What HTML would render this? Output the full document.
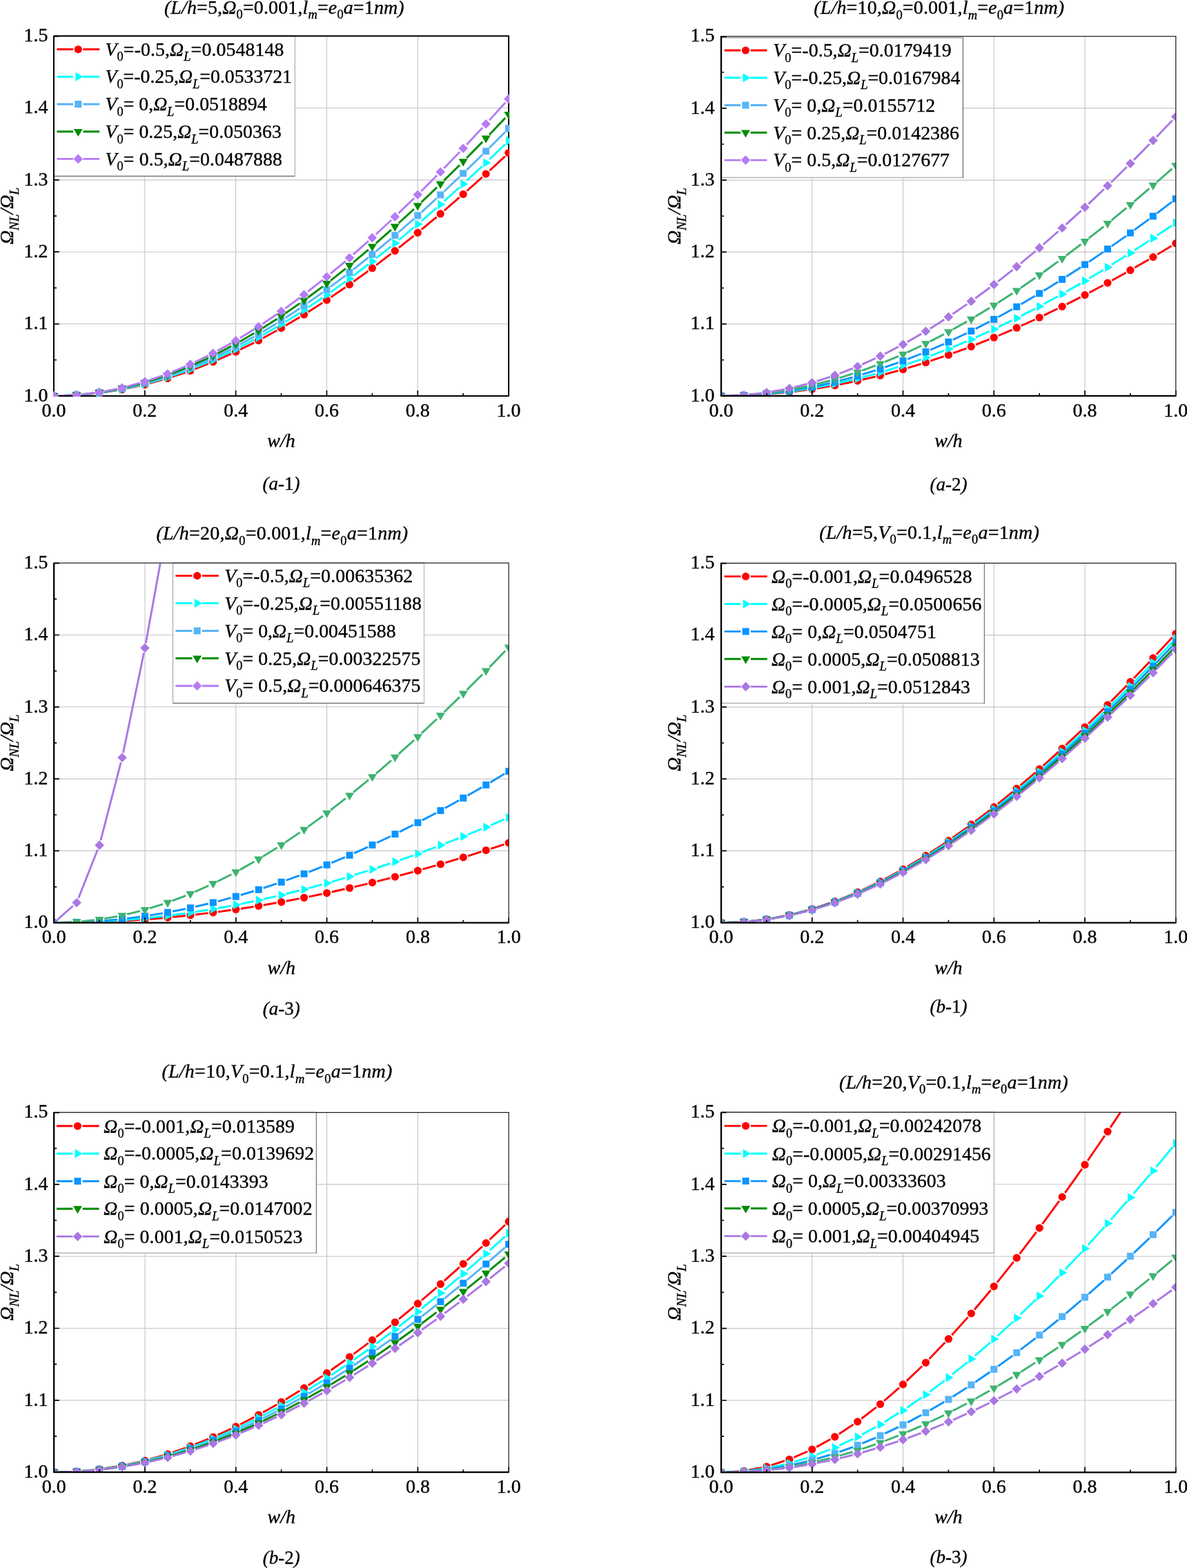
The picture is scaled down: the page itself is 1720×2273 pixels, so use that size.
<!DOCTYPE html>
<html><head><meta charset="utf-8"><title>Figure</title>
<style>
html,body{margin:0;padding:0;background:#fff;overflow:hidden;}
svg{display:block;}
text{font-family:"Liberation Serif", "Times New Roman", serif;fill:#000;stroke:#000;stroke-width:0.35px;}
</style></head>
<body>
<svg width="1720" height="2273" viewBox="0 0 1720 2273">
<rect width="1720" height="2273" fill="#fff"/>
<clipPath id="ca1"><rect x="78.0" y="52.2" width="659.1" height="521.6999999999999"/></clipPath>
<path d="M209.82,52.20V573.90M341.64,52.20V573.90M473.46,52.20V573.90M605.28,52.20V573.90M78.00,469.56H737.10M78.00,365.22H737.10M78.00,260.88H737.10M78.00,156.54H737.10" stroke="#c6c6c6" stroke-width="1.1" fill="none"/>
<g clip-path="url(#ca1)"><path d="M85.20,573.68L103.76,573.10M118.12,572.20L136.74,570.46M151.02,568.69L169.75,565.78M183.90,563.16L202.78,559.08M216.76,555.65L235.83,550.40M249.61,546.21L268.90,539.77M282.44,534.88L301.98,527.26M315.26,521.72L335.06,512.93M348.09,506.80L368.15,496.85M380.91,490.19L401.23,479.09M413.74,471.96L434.32,459.73M446.57,452.18L467.39,438.86M479.41,430.92L500.47,416.55M512.25,408.28L533.54,392.89M545.10,384.31L566.60,367.95M577.96,359.10L599.65,341.81M610.82,332.72L632.70,314.53M643.69,305.23L665.74,286.20M676.56,276.71L698.77,256.88M709.44,247.21L731.80,226.63" stroke="#ff0000" stroke-width="2.9" fill="none"/><circle cx="78.00" cy="573.90" r="5.6" fill="#ff0000"/><circle cx="110.96" cy="572.87" r="5.6" fill="#ff0000"/><circle cx="143.91" cy="569.79" r="5.6" fill="#ff0000"/><circle cx="176.87" cy="564.68" r="5.6" fill="#ff0000"/><circle cx="209.82" cy="557.57" r="5.6" fill="#ff0000"/><circle cx="242.78" cy="548.49" r="5.6" fill="#ff0000"/><circle cx="275.73" cy="537.49" r="5.6" fill="#ff0000"/><circle cx="308.69" cy="524.65" r="5.6" fill="#ff0000"/><circle cx="341.64" cy="510.01" r="5.6" fill="#ff0000"/><circle cx="374.60" cy="493.64" r="5.6" fill="#ff0000"/><circle cx="407.55" cy="475.63" r="5.6" fill="#ff0000"/><circle cx="440.51" cy="456.06" r="5.6" fill="#ff0000"/><circle cx="473.46" cy="434.98" r="5.6" fill="#ff0000"/><circle cx="506.42" cy="412.50" r="5.6" fill="#ff0000"/><circle cx="539.37" cy="388.67" r="5.6" fill="#ff0000"/><circle cx="572.33" cy="363.59" r="5.6" fill="#ff0000"/><circle cx="605.28" cy="337.32" r="5.6" fill="#ff0000"/><circle cx="638.24" cy="309.93" r="5.6" fill="#ff0000"/><circle cx="671.19" cy="281.50" r="5.6" fill="#ff0000"/><circle cx="704.15" cy="252.09" r="5.6" fill="#ff0000"/><circle cx="737.10" cy="221.75" r="5.6" fill="#ff0000"/><path d="M85.20,573.66L103.76,573.05M118.12,572.11L136.74,570.27M151.02,568.39L169.76,565.32M183.88,562.55L202.80,558.24M216.73,554.63L235.86,549.06M249.57,544.66L268.94,537.84M282.39,532.71L302.03,524.64M315.21,518.84L335.12,509.52M348.02,503.13L368.21,492.57M380.84,485.64L401.31,473.86M413.66,466.46L434.40,453.49M446.48,445.66L467.48,431.55M479.31,423.34L500.56,408.11M512.15,399.57L533.63,383.27M545.00,374.43L566.70,357.11M577.85,348.01L599.75,329.72M610.71,320.38L632.80,301.16M643.58,291.61L665.84,271.52M676.45,261.78L698.88,240.86M709.34,230.96L731.91,209.26" stroke="#00ffff" stroke-width="2.9" fill="none"/><path d="M74.10,567.40L85.30,573.90L74.10,580.40Z" fill="#00ffff"/><path d="M107.06,566.31L118.26,572.81L107.06,579.31Z" fill="#00ffff"/><path d="M140.01,563.06L151.21,569.56L140.01,576.06Z" fill="#00ffff"/><path d="M172.97,557.66L184.17,564.16L172.97,570.66Z" fill="#00ffff"/><path d="M205.92,550.14L217.12,556.64L205.92,563.14Z" fill="#00ffff"/><path d="M238.88,540.55L250.08,547.05L238.88,553.55Z" fill="#00ffff"/><path d="M271.83,528.95L283.03,535.45L271.83,541.95Z" fill="#00ffff"/><path d="M304.79,515.40L315.99,521.90L304.79,528.40Z" fill="#00ffff"/><path d="M337.74,499.96L348.94,506.46L337.74,512.96Z" fill="#00ffff"/><path d="M370.70,482.73L381.90,489.23L370.70,495.73Z" fill="#00ffff"/><path d="M403.65,463.77L414.85,470.27L403.65,476.77Z" fill="#00ffff"/><path d="M436.61,443.18L447.81,449.68L436.61,456.18Z" fill="#00ffff"/><path d="M469.56,421.03L480.76,427.53L469.56,434.03Z" fill="#00ffff"/><path d="M502.52,397.42L513.72,403.92L502.52,410.42Z" fill="#00ffff"/><path d="M535.47,372.42L546.67,378.92L535.47,385.42Z" fill="#00ffff"/><path d="M568.43,346.12L579.62,352.62L568.43,359.12Z" fill="#00ffff"/><path d="M601.38,318.60L612.58,325.10L601.38,331.60Z" fill="#00ffff"/><path d="M634.34,289.93L645.54,296.43L634.34,302.93Z" fill="#00ffff"/><path d="M667.29,260.20L678.49,266.70L667.29,273.20Z" fill="#00ffff"/><path d="M700.25,229.45L711.45,235.95L700.25,242.45Z" fill="#00ffff"/><path d="M733.20,197.77L744.40,204.27L733.20,210.77Z" fill="#00ffff"/><path d="M85.20,573.65L103.76,573.00M118.12,572.00L136.75,570.06M151.00,568.08L169.77,564.84M183.86,561.92L202.82,557.36M216.70,553.56L235.89,547.67M249.52,543.05L268.98,535.82M282.34,530.45L302.08,521.89M315.14,515.84L335.18,505.95M347.95,499.30L368.29,488.10M380.76,480.90L401.39,468.41M413.57,460.73L434.49,446.99M446.39,438.89L467.58,423.93M479.21,415.46L500.66,399.33M512.05,390.52L533.73,373.28M544.89,364.18L566.80,345.86M577.75,336.51L599.86,317.18M610.61,307.59L632.91,287.30M643.47,277.51L665.95,256.31M676.35,246.35L698.99,224.29M709.23,214.17L732.02,191.30" stroke="#56b4f7" stroke-width="2.9" fill="none"/><rect x="73.00" y="568.90" width="10.00" height="10.00" fill="#56b4f7"/><rect x="105.96" y="567.75" width="10.00" height="10.00" fill="#56b4f7"/><rect x="138.91" y="564.31" width="10.00" height="10.00" fill="#56b4f7"/><rect x="171.87" y="558.61" width="10.00" height="10.00" fill="#56b4f7"/><rect x="204.82" y="550.67" width="10.00" height="10.00" fill="#56b4f7"/><rect x="237.78" y="540.55" width="10.00" height="10.00" fill="#56b4f7"/><rect x="270.73" y="528.31" width="10.00" height="10.00" fill="#56b4f7"/><rect x="303.69" y="514.03" width="10.00" height="10.00" fill="#56b4f7"/><rect x="336.64" y="497.77" width="10.00" height="10.00" fill="#56b4f7"/><rect x="369.60" y="479.63" width="10.00" height="10.00" fill="#56b4f7"/><rect x="402.55" y="459.69" width="10.00" height="10.00" fill="#56b4f7"/><rect x="435.51" y="438.04" width="10.00" height="10.00" fill="#56b4f7"/><rect x="468.46" y="414.78" width="10.00" height="10.00" fill="#56b4f7"/><rect x="501.42" y="390.00" width="10.00" height="10.00" fill="#56b4f7"/><rect x="534.37" y="363.80" width="10.00" height="10.00" fill="#56b4f7"/><rect x="567.33" y="336.24" width="10.00" height="10.00" fill="#56b4f7"/><rect x="600.28" y="307.44" width="10.00" height="10.00" fill="#56b4f7"/><rect x="633.24" y="277.45" width="10.00" height="10.00" fill="#56b4f7"/><rect x="666.19" y="246.37" width="10.00" height="10.00" fill="#56b4f7"/><rect x="699.15" y="214.27" width="10.00" height="10.00" fill="#56b4f7"/><rect x="732.10" y="181.21" width="10.00" height="10.00" fill="#56b4f7"/><path d="M85.20,573.63L103.76,572.95M118.11,571.89L136.75,569.83M150.99,567.73L169.78,564.28M183.84,561.20L202.84,556.35M216.67,552.34L235.93,546.07M249.48,541.21L269.03,533.52M282.27,527.88L302.14,518.77M315.07,512.44L335.26,501.90M347.86,494.95L368.37,483.02M380.66,475.53L401.48,462.23M413.47,454.25L434.59,439.62M446.28,431.22L467.68,415.31M479.11,406.54L500.77,389.39M511.94,380.30L533.85,361.97M544.78,352.60L566.92,333.15M577.63,323.53L599.98,303.02M610.49,293.18L633.03,271.67M643.36,261.63L666.07,239.18M676.23,228.97L699.11,205.63M709.11,195.27L732.13,171.10" stroke="#008c00" stroke-width="2.9" fill="none"/><path d="M71.50,570.00L84.50,570.00L78.00,581.20Z" fill="#008c00"/><path d="M104.46,568.78L117.46,568.78L110.96,579.98Z" fill="#008c00"/><path d="M137.41,565.13L150.41,565.13L143.91,576.33Z" fill="#008c00"/><path d="M170.37,559.08L183.37,559.08L176.87,570.28Z" fill="#008c00"/><path d="M203.32,550.67L216.32,550.67L209.82,561.87Z" fill="#008c00"/><path d="M236.28,539.95L249.28,539.95L242.78,551.15Z" fill="#008c00"/><path d="M269.23,526.99L282.23,526.99L275.73,538.19Z" fill="#008c00"/><path d="M302.19,511.87L315.19,511.87L308.69,523.07Z" fill="#008c00"/><path d="M335.14,494.67L348.14,494.67L341.64,505.87Z" fill="#008c00"/><path d="M368.10,475.50L381.10,475.50L374.60,486.70Z" fill="#008c00"/><path d="M401.05,454.45L414.05,454.45L407.55,465.65Z" fill="#008c00"/><path d="M434.01,431.62L447.01,431.62L440.51,442.82Z" fill="#008c00"/><path d="M466.96,407.11L479.96,407.11L473.46,418.31Z" fill="#008c00"/><path d="M499.92,381.02L512.91,381.02L506.42,392.22Z" fill="#008c00"/><path d="M532.87,353.45L545.87,353.45L539.37,364.65Z" fill="#008c00"/><path d="M565.83,324.50L578.83,324.50L572.33,335.70Z" fill="#008c00"/><path d="M598.78,294.25L611.78,294.25L605.28,305.45Z" fill="#008c00"/><path d="M631.74,262.80L644.74,262.80L638.24,274.00Z" fill="#008c00"/><path d="M664.69,230.22L677.69,230.22L671.19,241.42Z" fill="#008c00"/><path d="M697.65,196.59L710.65,196.59L704.15,207.79Z" fill="#008c00"/><path d="M730.60,161.99L743.60,161.99L737.10,173.19Z" fill="#008c00"/><path d="M85.19,573.62L103.76,572.89M118.11,571.76L136.76,569.56M150.98,567.34L169.80,563.66M183.81,560.39L202.87,555.22M216.62,550.98L235.97,544.29M249.42,539.16L269.09,530.94M282.20,525.01L302.21,515.27M314.98,508.63L335.34,497.37M347.77,490.10L368.47,477.34M380.56,469.53L401.59,455.31M413.36,447.02L434.70,431.39M446.17,422.69L467.80,405.69M478.99,396.62L500.89,378.32M511.81,368.94L533.97,349.39M544.65,339.74L567.04,319.02M577.50,309.13L600.10,287.30M610.36,277.20L633.15,254.32M643.23,244.03L666.20,220.18M676.10,209.73L699.23,184.96M708.99,174.37L732.26,148.74" stroke="#b57bf5" stroke-width="2.9" fill="none"/><path d="M78.00,567.10L84.80,573.90L78.00,580.70L71.20,573.90Z" fill="#b57bf5"/><path d="M110.96,565.80L117.76,572.60L110.96,579.40L104.16,572.60Z" fill="#b57bf5"/><path d="M143.91,561.92L150.71,568.72L143.91,575.52L137.11,568.72Z" fill="#b57bf5"/><path d="M176.87,555.48L183.67,562.28L176.87,569.08L170.06,562.28Z" fill="#b57bf5"/><path d="M209.82,546.53L216.62,553.33L209.82,560.13L203.02,553.33Z" fill="#b57bf5"/><path d="M242.78,535.13L249.58,541.93L242.78,548.73L235.97,541.93Z" fill="#b57bf5"/><path d="M275.73,521.37L282.53,528.17L275.73,534.97L268.93,528.17Z" fill="#b57bf5"/><path d="M308.69,505.32L315.49,512.12L308.69,518.92L301.89,512.12Z" fill="#b57bf5"/><path d="M341.64,487.08L348.44,493.88L341.64,500.68L334.84,493.88Z" fill="#b57bf5"/><path d="M374.60,466.77L381.40,473.57L374.60,480.37L367.80,473.57Z" fill="#b57bf5"/><path d="M407.55,444.48L414.35,451.28L407.55,458.08L400.75,451.28Z" fill="#b57bf5"/><path d="M440.51,420.33L447.31,427.13L440.51,433.93L433.71,427.13Z" fill="#b57bf5"/><path d="M473.46,394.44L480.26,401.24L473.46,408.04L466.66,401.24Z" fill="#b57bf5"/><path d="M506.42,366.90L513.22,373.70L506.42,380.50L499.62,373.70Z" fill="#b57bf5"/><path d="M539.37,337.83L546.17,344.63L539.37,351.43L532.57,344.63Z" fill="#b57bf5"/><path d="M572.33,307.33L579.12,314.13L572.33,320.93L565.53,314.13Z" fill="#b57bf5"/><path d="M605.28,275.50L612.08,282.30L605.28,289.10L598.48,282.30Z" fill="#b57bf5"/><path d="M638.24,242.42L645.04,249.22L638.24,256.02L631.44,249.22Z" fill="#b57bf5"/><path d="M671.19,208.19L677.99,214.99L671.19,221.79L664.39,214.99Z" fill="#b57bf5"/><path d="M704.15,172.90L710.95,179.70L704.15,186.50L697.35,179.70Z" fill="#b57bf5"/><path d="M737.10,136.61L743.90,143.41L737.10,150.21L730.30,143.41Z" fill="#b57bf5"/></g>
<path d="M143.91,573.90V569.90M209.82,573.90V566.10M275.73,573.90V569.90M341.64,573.90V566.10M407.55,573.90V569.90M473.46,573.90V566.10M539.37,573.90V569.90M605.28,573.90V566.10M671.19,573.90V569.90M737.10,573.90V566.10M78.00,521.73H82.00M78.00,469.56H85.80M78.00,417.39H82.00M78.00,365.22H85.80M78.00,313.05H82.00M78.00,260.88H85.80M78.00,208.71H82.00M78.00,156.54H85.80M78.00,104.37H82.00" stroke="#000" stroke-width="1.7" fill="none"/>
<rect x="78.00" y="52.20" width="349.40" height="203.10" fill="#fff"/>
<path d="M78.00,52.20H427.40" stroke="#666" stroke-width="1.25" fill="none"/>
<path d="M78.00,52.20V255.30" stroke="#666" stroke-width="1.25" fill="none"/>
<path d="M78.00,255.30H428.00" stroke="#666" stroke-width="1.25" fill="none"/>
<path d="M427.40,52.20V255.90" stroke="#b0b0b0" stroke-width="1.25" fill="none"/>
<path d="M82.50,71.50H106.10M120.50,71.50H144.20" stroke="#ff0000" stroke-width="2.9" fill="none"/>
<circle cx="113.30" cy="71.50" r="5.6" fill="#ff0000"/>
<text x="152.50" y="80.70" font-size="27.8" text-anchor="start" id="l_a1_0" textLength="258.84" lengthAdjust="spacing"><tspan font-style="italic">V</tspan><tspan font-size="18.35" dy="7.51">0</tspan><tspan dy="-7.51">=-0.5,</tspan><tspan font-style="italic">Ω</tspan><tspan font-style="italic" font-size="18.35" dy="7.51">L</tspan><tspan dy="-7.51">=0.0548148</tspan></text>
<path d="M82.50,111.20H106.10M120.50,111.20H144.20" stroke="#00ffff" stroke-width="2.9" fill="none"/>
<path d="M109.40,104.70L120.60,111.20L109.40,117.70Z" fill="#00ffff"/>
<text x="152.50" y="120.40" font-size="27.8" text-anchor="start" id="l_a1_1" textLength="270.53" lengthAdjust="spacing"><tspan font-style="italic">V</tspan><tspan font-size="18.35" dy="7.51">0</tspan><tspan dy="-7.51">=-0.25,</tspan><tspan font-style="italic">Ω</tspan><tspan font-style="italic" font-size="18.35" dy="7.51">L</tspan><tspan dy="-7.51">=0.0533721</tspan></text>
<path d="M82.50,151.00H106.10M120.50,151.00H144.20" stroke="#56b4f7" stroke-width="2.9" fill="none"/>
<rect x="108.30" y="146.00" width="10.00" height="10.00" fill="#56b4f7"/>
<text x="152.50" y="160.20" font-size="27.8" text-anchor="start" id="l_a1_2" textLength="234.08" lengthAdjust="spacing"><tspan font-style="italic">V</tspan><tspan font-size="18.35" dy="7.51">0</tspan><tspan dy="-7.51">= 0,</tspan><tspan font-style="italic">Ω</tspan><tspan font-style="italic" font-size="18.35" dy="7.51">L</tspan><tspan dy="-7.51">=0.0518894</tspan></text>
<path d="M82.50,190.80H106.10M120.50,190.80H144.20" stroke="#008c00" stroke-width="2.9" fill="none"/>
<path d="M106.80,186.90L119.80,186.90L113.30,198.10Z" fill="#008c00"/>
<text x="152.50" y="200.00" font-size="27.8" text-anchor="start" id="l_a1_3" textLength="255.32" lengthAdjust="spacing"><tspan font-style="italic">V</tspan><tspan font-size="18.35" dy="7.51">0</tspan><tspan dy="-7.51">= 0.25,</tspan><tspan font-style="italic">Ω</tspan><tspan font-style="italic" font-size="18.35" dy="7.51">L</tspan><tspan dy="-7.51">=0.050363</tspan></text>
<path d="M82.50,230.40H106.10M120.50,230.40H144.20" stroke="#b57bf5" stroke-width="2.9" fill="none"/>
<path d="M113.30,223.60L120.10,230.40L113.30,237.20L106.50,230.40Z" fill="#b57bf5"/>
<text x="152.50" y="239.60" font-size="27.8" text-anchor="start" id="l_a1_4" textLength="256.43" lengthAdjust="spacing"><tspan font-style="italic">V</tspan><tspan font-size="18.35" dy="7.51">0</tspan><tspan dy="-7.51">= 0.5,</tspan><tspan font-style="italic">Ω</tspan><tspan font-style="italic" font-size="18.35" dy="7.51">L</tspan><tspan dy="-7.51">=0.0487888</tspan></text>
<path d="M78.00,52.20H737.10V573.90" stroke="#000" stroke-width="2.0" fill="none"/>
<path d="M78.00,51.70V573.90H737.70" stroke="#000" stroke-width="2.0" fill="none"/>
<path d="M78.00,52.50H85.80" stroke="#000" stroke-width="1.8" fill="none"/>
<clipPath id="cea1"><rect x="77.0" y="51.2" width="661.1" height="523.6999999999999"/></clipPath>
<g clip-path="url(#cea1)"><circle cx="78.00" cy="573.90" r="5.6" fill="#ff0000"/><circle cx="110.96" cy="572.87" r="5.6" fill="#ff0000"/><circle cx="143.91" cy="569.79" r="5.6" fill="#ff0000"/><circle cx="737.10" cy="221.75" r="5.6" fill="#ff0000"/><path d="M74.10,567.40L85.30,573.90L74.10,580.40Z" fill="#00ffff"/><path d="M107.06,566.31L118.26,572.81L107.06,579.31Z" fill="#00ffff"/><path d="M140.01,563.06L151.21,569.56L140.01,576.06Z" fill="#00ffff"/><path d="M733.20,197.77L744.40,204.27L733.20,210.77Z" fill="#00ffff"/><rect x="73.00" y="568.90" width="10.00" height="10.00" fill="#56b4f7"/><rect x="105.96" y="567.75" width="10.00" height="10.00" fill="#56b4f7"/><rect x="138.91" y="564.31" width="10.00" height="10.00" fill="#56b4f7"/><rect x="732.10" y="181.21" width="10.00" height="10.00" fill="#56b4f7"/><path d="M71.50,570.00L84.50,570.00L78.00,581.20Z" fill="#008c00"/><path d="M104.46,568.78L117.46,568.78L110.96,579.98Z" fill="#008c00"/><path d="M137.41,565.13L150.41,565.13L143.91,576.33Z" fill="#008c00"/><path d="M730.60,161.99L743.60,161.99L737.10,173.19Z" fill="#008c00"/><path d="M78.00,567.10L84.80,573.90L78.00,580.70L71.20,573.90Z" fill="#b57bf5"/><path d="M110.96,565.80L117.76,572.60L110.96,579.40L104.16,572.60Z" fill="#b57bf5"/><path d="M143.91,561.92L150.71,568.72L143.91,575.52L137.11,568.72Z" fill="#b57bf5"/><path d="M737.10,136.61L743.90,143.41L737.10,150.21L730.30,143.41Z" fill="#b57bf5"/></g>
<text x="78.00" y="603.50" font-size="28" text-anchor="middle">0.0</text>
<text x="209.82" y="603.50" font-size="28" text-anchor="middle">0.2</text>
<text x="341.64" y="603.50" font-size="28" text-anchor="middle">0.4</text>
<text x="473.46" y="603.50" font-size="28" text-anchor="middle">0.6</text>
<text x="605.28" y="603.50" font-size="28" text-anchor="middle">0.8</text>
<text x="737.10" y="603.50" font-size="28" text-anchor="middle">1.0</text>
<text x="69.40" y="581.60" font-size="28" text-anchor="end">1.0</text>
<text x="69.40" y="477.26" font-size="28" text-anchor="end">1.1</text>
<text x="69.40" y="372.92" font-size="28" text-anchor="end">1.2</text>
<text x="69.40" y="268.58" font-size="28" text-anchor="end">1.3</text>
<text x="69.40" y="164.24" font-size="28" text-anchor="end">1.4</text>
<text x="69.40" y="59.90" font-size="28" text-anchor="end">1.5</text>
<text x="407.55" y="647.90" font-size="28" text-anchor="middle"><tspan font-style="italic">w/h</tspan></text>
<text x="0.00" y="0.00" font-size="28" text-anchor="middle" transform="translate(19.20,313.05) rotate(-90)"><tspan font-style="italic">Ω</tspan><tspan font-style="italic" font-size="19.04" dy="7.84">NL</tspan><tspan font-style="italic" dy="-7.84">/Ω</tspan><tspan font-style="italic" font-size="19.04" dy="7.84">L</tspan></text>
<text x="237.90" y="19.80" font-size="28" text-anchor="start" id="t_a1" textLength="347.80" lengthAdjust="spacing"><tspan font-style="italic">(L/h</tspan><tspan >=5,</tspan><tspan font-style="italic">Ω</tspan><tspan font-size="18.48" dy="7.28">0</tspan><tspan dy="-7.28">=0.001,</tspan><tspan font-style="italic">l</tspan><tspan font-style="italic" font-size="18.48" dy="7.28">m</tspan><tspan dy="-7.28">=</tspan><tspan font-style="italic">e</tspan><tspan font-size="18.48" dy="7.28">0</tspan><tspan font-style="italic" dy="-7.28">a</tspan><tspan >=1</tspan><tspan font-style="italic">nm)</tspan></text>
<text x="407.55" y="710.00" font-size="27" text-anchor="middle"><tspan font-style="italic">(a</tspan><tspan >-1</tspan><tspan font-style="italic">)</tspan></text>
<clipPath id="ca2"><rect x="1045.0" y="52.6" width="658.8" height="521.3"/></clipPath>
<path d="M1176.76,52.60V573.90M1308.52,52.60V573.90M1440.28,52.60V573.90M1572.04,52.60V573.90M1045.00,469.64H1703.80M1045.00,365.38H1703.80M1045.00,261.12H1703.80M1045.00,156.86H1703.80" stroke="#c6c6c6" stroke-width="1.1" fill="none"/>
<g clip-path="url(#ca2)"><path d="M1052.20,573.77L1070.74,573.42M1085.13,572.89L1103.69,571.86M1118.05,570.79L1136.65,569.07M1150.96,567.49L1169.62,565.08M1183.86,562.99L1202.60,559.90M1216.76,557.31L1235.58,553.53M1249.65,550.46L1268.57,546.01M1282.53,542.48L1301.57,537.35M1315.41,533.39L1334.57,527.58M1348.29,523.20L1367.57,516.74M1381.16,511.97L1400.58,504.84M1414.03,499.71L1433.59,491.94M1446.90,486.46L1466.60,478.05M1479.77,472.25L1499.61,463.23M1512.65,457.12L1532.61,447.49M1545.52,441.10L1565.62,430.88M1578.39,424.23L1598.63,413.44M1611.27,406.55L1631.63,395.20M1644.15,388.09L1664.63,376.20M1677.03,368.88L1697.63,356.47" stroke="#ff0000" stroke-width="2.9" fill="none"/><circle cx="1045.00" cy="573.90" r="5.6" fill="#ff0000"/><circle cx="1077.94" cy="573.29" r="5.6" fill="#ff0000"/><circle cx="1110.88" cy="571.46" r="5.6" fill="#ff0000"/><circle cx="1143.82" cy="568.41" r="5.6" fill="#ff0000"/><circle cx="1176.76" cy="564.16" r="5.6" fill="#ff0000"/><circle cx="1209.70" cy="558.72" r="5.6" fill="#ff0000"/><circle cx="1242.64" cy="552.11" r="5.6" fill="#ff0000"/><circle cx="1275.58" cy="544.36" r="5.6" fill="#ff0000"/><circle cx="1308.52" cy="535.47" r="5.6" fill="#ff0000"/><circle cx="1341.46" cy="525.49" r="5.6" fill="#ff0000"/><circle cx="1374.40" cy="514.45" r="5.6" fill="#ff0000"/><circle cx="1407.34" cy="502.36" r="5.6" fill="#ff0000"/><circle cx="1440.28" cy="489.28" r="5.6" fill="#ff0000"/><circle cx="1473.22" cy="475.23" r="5.6" fill="#ff0000"/><circle cx="1506.16" cy="460.24" r="5.6" fill="#ff0000"/><circle cx="1539.10" cy="444.36" r="5.6" fill="#ff0000"/><circle cx="1572.04" cy="427.62" r="5.6" fill="#ff0000"/><circle cx="1604.98" cy="410.06" r="5.6" fill="#ff0000"/><circle cx="1637.92" cy="391.70" r="5.6" fill="#ff0000"/><circle cx="1670.86" cy="372.59" r="5.6" fill="#ff0000"/><circle cx="1703.80" cy="352.76" r="5.6" fill="#ff0000"/><path d="M1052.20,573.75L1070.74,573.35M1085.13,572.74L1103.69,571.55M1118.04,570.33L1136.66,568.35M1150.94,566.54L1169.64,563.77M1183.83,561.37L1202.63,557.81M1216.72,554.86L1235.62,550.51M1249.59,547.02L1268.63,541.89M1282.46,537.89L1301.64,531.97M1315.32,527.49L1334.66,520.80M1348.18,515.87L1367.68,508.41M1381.04,503.06L1400.70,494.84M1413.90,489.10L1433.72,480.14M1446.76,474.04L1466.74,464.35M1479.62,457.91L1499.76,447.51M1512.48,440.76L1532.78,429.67M1545.34,422.63L1565.80,410.87M1578.21,403.57L1598.81,391.16M1611.08,383.62L1631.82,370.59M1643.95,362.82L1664.83,349.18M1676.82,341.21L1697.84,327.00" stroke="#00ffff" stroke-width="2.9" fill="none"/><path d="M1041.10,567.40L1052.30,573.90L1041.10,580.40Z" fill="#00ffff"/><path d="M1074.04,566.70L1085.24,573.20L1074.04,579.70Z" fill="#00ffff"/><path d="M1106.98,564.59L1118.18,571.09L1106.98,577.59Z" fill="#00ffff"/><path d="M1139.92,561.09L1151.12,567.59L1139.92,574.09Z" fill="#00ffff"/><path d="M1172.86,556.21L1184.06,562.71L1172.86,569.21Z" fill="#00ffff"/><path d="M1205.80,549.97L1217.00,556.47L1205.80,562.97Z" fill="#00ffff"/><path d="M1238.74,542.40L1249.94,548.90L1238.74,555.40Z" fill="#00ffff"/><path d="M1271.68,533.51L1282.88,540.01L1271.68,546.51Z" fill="#00ffff"/><path d="M1304.62,523.35L1315.82,529.85L1304.62,536.35Z" fill="#00ffff"/><path d="M1337.56,511.94L1348.76,518.44L1337.56,524.94Z" fill="#00ffff"/><path d="M1370.50,499.34L1381.70,505.84L1370.50,512.34Z" fill="#00ffff"/><path d="M1403.44,485.57L1414.64,492.07L1403.44,498.57Z" fill="#00ffff"/><path d="M1436.38,470.68L1447.58,477.18L1436.38,483.68Z" fill="#00ffff"/><path d="M1469.32,454.71L1480.52,461.21L1469.32,467.71Z" fill="#00ffff"/><path d="M1502.26,437.71L1513.46,444.21L1502.26,450.71Z" fill="#00ffff"/><path d="M1535.20,419.72L1546.40,426.22L1535.20,432.72Z" fill="#00ffff"/><path d="M1568.14,400.79L1579.34,407.29L1568.14,413.79Z" fill="#00ffff"/><path d="M1601.08,380.95L1612.28,387.45L1601.08,393.95Z" fill="#00ffff"/><path d="M1634.02,360.26L1645.22,366.76L1634.02,373.26Z" fill="#00ffff"/><path d="M1666.96,338.75L1678.16,345.25L1666.96,351.75Z" fill="#00ffff"/><path d="M1699.90,316.46L1711.10,322.96L1699.90,329.46Z" fill="#00ffff"/><path d="M1052.20,573.72L1070.74,573.27M1085.12,572.56L1103.70,571.19M1118.03,569.78L1136.67,567.50M1150.92,565.41L1169.66,562.21M1183.79,559.46L1202.67,555.34M1216.66,551.96L1235.68,546.92M1249.52,542.95L1268.70,536.99M1282.37,532.45L1301.73,525.59M1315.21,520.53L1334.77,512.76M1348.05,507.22L1367.81,498.56M1380.90,492.56L1400.84,483.03M1413.74,476.62L1433.88,466.23M1446.58,459.44L1466.92,448.21M1479.43,441.08L1499.95,429.04M1512.28,421.60L1532.98,408.76M1545.13,401.03L1566.01,387.43M1577.99,379.45L1599.03,365.11M1610.85,356.89L1632.05,341.85M1643.72,333.41L1665.06,317.70M1676.59,309.06L1698.07,292.70" stroke="#0a94ff" stroke-width="2.9" fill="none"/><rect x="1040.00" y="568.90" width="10.00" height="10.00" fill="#0a94ff"/><rect x="1072.94" y="568.09" width="10.00" height="10.00" fill="#0a94ff"/><rect x="1105.88" y="565.66" width="10.00" height="10.00" fill="#0a94ff"/><rect x="1138.82" y="561.62" width="10.00" height="10.00" fill="#0a94ff"/><rect x="1171.76" y="555.99" width="10.00" height="10.00" fill="#0a94ff"/><rect x="1204.70" y="548.80" width="10.00" height="10.00" fill="#0a94ff"/><rect x="1237.64" y="540.08" width="10.00" height="10.00" fill="#0a94ff"/><rect x="1270.58" y="529.86" width="10.00" height="10.00" fill="#0a94ff"/><rect x="1303.52" y="518.19" width="10.00" height="10.00" fill="#0a94ff"/><rect x="1336.46" y="505.11" width="10.00" height="10.00" fill="#0a94ff"/><rect x="1369.40" y="490.67" width="10.00" height="10.00" fill="#0a94ff"/><rect x="1402.34" y="474.92" width="10.00" height="10.00" fill="#0a94ff"/><rect x="1435.28" y="457.93" width="10.00" height="10.00" fill="#0a94ff"/><rect x="1468.22" y="439.73" width="10.00" height="10.00" fill="#0a94ff"/><rect x="1501.16" y="420.39" width="10.00" height="10.00" fill="#0a94ff"/><rect x="1534.10" y="399.96" width="10.00" height="10.00" fill="#0a94ff"/><rect x="1567.04" y="378.50" width="10.00" height="10.00" fill="#0a94ff"/><rect x="1599.98" y="356.06" width="10.00" height="10.00" fill="#0a94ff"/><rect x="1632.92" y="332.68" width="10.00" height="10.00" fill="#0a94ff"/><rect x="1665.86" y="308.43" width="10.00" height="10.00" fill="#0a94ff"/><rect x="1698.80" y="283.34" width="10.00" height="10.00" fill="#0a94ff"/><path d="M1052.20,573.69L1070.74,573.14M1085.11,572.30L1103.71,570.66M1118.00,568.99L1136.70,566.26M1150.88,563.78L1169.70,559.95M1183.73,556.70L1202.73,551.76M1216.57,547.79L1235.77,541.74M1249.40,537.09L1268.82,529.94M1282.22,524.67L1301.88,516.41M1315.04,510.57L1334.94,501.22M1347.86,494.86L1368.00,484.44M1380.67,477.60L1401.07,466.13M1413.50,458.86L1434.12,446.36M1446.32,438.72L1467.18,425.22M1479.16,417.24L1500.22,402.78M1511.99,394.48L1533.27,379.10M1544.84,370.53L1566.30,354.26M1577.69,345.44L1599.33,328.32M1610.54,319.28L1632.36,301.35M1643.40,292.12L1665.38,273.42M1676.27,264.01L1698.39,244.58" stroke="#3cb371" stroke-width="2.9" fill="none"/><path d="M1038.50,570.00L1051.50,570.00L1045.00,581.20Z" fill="#3cb371"/><path d="M1071.44,569.03L1084.44,569.03L1077.94,580.23Z" fill="#3cb371"/><path d="M1104.38,566.13L1117.38,566.13L1110.88,577.33Z" fill="#3cb371"/><path d="M1137.32,561.32L1150.32,561.32L1143.82,572.52Z" fill="#3cb371"/><path d="M1170.26,554.61L1183.26,554.61L1176.76,565.81Z" fill="#3cb371"/><path d="M1203.20,546.05L1216.20,546.05L1209.70,557.25Z" fill="#3cb371"/><path d="M1236.14,535.68L1249.14,535.68L1242.64,546.88Z" fill="#3cb371"/><path d="M1269.08,523.56L1282.08,523.56L1275.58,534.76Z" fill="#3cb371"/><path d="M1302.02,509.73L1315.02,509.73L1308.52,520.93Z" fill="#3cb371"/><path d="M1334.96,494.26L1347.96,494.26L1341.46,505.46Z" fill="#3cb371"/><path d="M1367.90,477.23L1380.90,477.23L1374.40,488.43Z" fill="#3cb371"/><path d="M1400.84,458.70L1413.84,458.70L1407.34,469.90Z" fill="#3cb371"/><path d="M1433.78,438.73L1446.78,438.73L1440.28,449.93Z" fill="#3cb371"/><path d="M1466.72,417.41L1479.72,417.41L1473.22,428.61Z" fill="#3cb371"/><path d="M1499.66,394.80L1512.66,394.80L1506.16,406.00Z" fill="#3cb371"/><path d="M1532.60,370.98L1545.60,370.98L1539.10,382.18Z" fill="#3cb371"/><path d="M1565.54,346.01L1578.54,346.01L1572.04,357.21Z" fill="#3cb371"/><path d="M1598.48,319.95L1611.48,319.95L1604.98,331.15Z" fill="#3cb371"/><path d="M1631.42,292.88L1644.42,292.88L1637.92,304.08Z" fill="#3cb371"/><path d="M1664.36,264.86L1677.36,264.86L1670.86,276.06Z" fill="#3cb371"/><path d="M1697.30,235.93L1710.30,235.93L1703.80,247.13Z" fill="#3cb371"/><path d="M1052.20,573.64L1070.74,572.96M1085.10,571.91L1103.72,569.86M1117.96,567.79L1136.74,564.37M1150.80,561.32L1169.78,556.52M1183.61,552.54L1202.85,546.34M1216.41,541.51L1235.93,533.90M1249.19,528.31L1269.03,519.29M1281.98,513.00L1302.12,502.58M1314.76,495.67L1335.22,483.87M1347.54,476.42L1368.32,463.25M1380.33,455.32L1401.41,440.85M1413.13,432.49L1434.49,416.74M1445.94,408.02L1467.56,391.04M1478.76,382.00L1500.62,363.85M1511.59,354.52L1533.67,335.27M1544.42,325.69L1566.72,305.38M1577.27,295.58L1599.75,274.27M1610.12,264.28L1632.78,242.03M1642.98,231.87L1665.80,208.74M1675.84,198.42L1698.82,174.47" stroke="#aa77e3" stroke-width="2.9" fill="none"/><path d="M1045.00,567.10L1051.80,573.90L1045.00,580.70L1038.20,573.90Z" fill="#aa77e3"/><path d="M1077.94,565.89L1084.74,572.69L1077.94,579.49L1071.14,572.69Z" fill="#aa77e3"/><path d="M1110.88,562.28L1117.68,569.08L1110.88,575.88L1104.08,569.08Z" fill="#aa77e3"/><path d="M1143.82,556.29L1150.62,563.09L1143.82,569.89L1137.02,563.09Z" fill="#aa77e3"/><path d="M1176.76,547.95L1183.56,554.75L1176.76,561.55L1169.96,554.75Z" fill="#aa77e3"/><path d="M1209.70,537.33L1216.50,544.13L1209.70,550.93L1202.90,544.13Z" fill="#aa77e3"/><path d="M1242.64,524.49L1249.44,531.29L1242.64,538.09L1235.84,531.29Z" fill="#aa77e3"/><path d="M1275.58,509.51L1282.38,516.31L1275.58,523.11L1268.78,516.31Z" fill="#aa77e3"/><path d="M1308.52,492.47L1315.32,499.27L1308.52,506.07L1301.72,499.27Z" fill="#aa77e3"/><path d="M1341.46,473.47L1348.26,480.27L1341.46,487.07L1334.66,480.27Z" fill="#aa77e3"/><path d="M1374.40,452.60L1381.20,459.40L1374.40,466.20L1367.60,459.40Z" fill="#aa77e3"/><path d="M1407.34,429.97L1414.14,436.77L1407.34,443.57L1400.54,436.77Z" fill="#aa77e3"/><path d="M1440.28,405.67L1447.08,412.47L1440.28,419.27L1433.48,412.47Z" fill="#aa77e3"/><path d="M1473.22,379.80L1480.02,386.60L1473.22,393.40L1466.42,386.60Z" fill="#aa77e3"/><path d="M1506.16,352.46L1512.96,359.26L1506.16,366.06L1499.36,359.26Z" fill="#aa77e3"/><path d="M1539.10,323.74L1545.90,330.54L1539.10,337.34L1532.30,330.54Z" fill="#aa77e3"/><path d="M1572.04,293.73L1578.84,300.53L1572.04,307.33L1565.24,300.53Z" fill="#aa77e3"/><path d="M1604.98,262.52L1611.78,269.32L1604.98,276.12L1598.18,269.32Z" fill="#aa77e3"/><path d="M1637.92,230.19L1644.72,236.99L1637.92,243.79L1631.12,236.99Z" fill="#aa77e3"/><path d="M1670.86,196.82L1677.66,203.62L1670.86,210.42L1664.06,203.62Z" fill="#aa77e3"/><path d="M1703.80,162.48L1710.60,169.28L1703.80,176.08L1697.00,169.28Z" fill="#aa77e3"/></g>
<rect x="1045.00" y="54.70" width="350.40" height="202.70" fill="#fff"/>
<path d="M1045.00,54.70H1395.40" stroke="#888" stroke-width="1.25" fill="none"/>
<path d="M1045.00,54.70V257.40" stroke="#888" stroke-width="1.25" fill="none"/>
<path d="M1045.00,257.40H1396.00" stroke="#aaa" stroke-width="1.25" fill="none"/>
<path d="M1395.40,54.70V258.00" stroke="#666" stroke-width="1.25" fill="none"/>
<path d="M1049.70,73.00H1073.20M1087.60,73.00H1111.40" stroke="#ff0000" stroke-width="2.9" fill="none"/>
<circle cx="1080.40" cy="73.00" r="5.6" fill="#ff0000"/>
<text x="1120.30" y="82.20" font-size="27.8" text-anchor="start" id="l_a2_0" textLength="258.24" lengthAdjust="spacing"><tspan font-style="italic">V</tspan><tspan font-size="18.35" dy="7.51">0</tspan><tspan dy="-7.51">=-0.5,</tspan><tspan font-style="italic">Ω</tspan><tspan font-style="italic" font-size="18.35" dy="7.51">L</tspan><tspan dy="-7.51">=0.0179419</tspan></text>
<path d="M1049.70,112.70H1073.20M1087.60,112.70H1111.40" stroke="#00ffff" stroke-width="2.9" fill="none"/>
<path d="M1076.50,106.20L1087.70,112.70L1076.50,119.20Z" fill="#00ffff"/>
<text x="1120.30" y="121.90" font-size="27.8" text-anchor="start" id="l_a2_1" textLength="271.03" lengthAdjust="spacing"><tspan font-style="italic">V</tspan><tspan font-size="18.35" dy="7.51">0</tspan><tspan dy="-7.51">=-0.25,</tspan><tspan font-style="italic">Ω</tspan><tspan font-style="italic" font-size="18.35" dy="7.51">L</tspan><tspan dy="-7.51">=0.0167984</tspan></text>
<path d="M1049.70,152.50H1073.20M1087.60,152.50H1111.40" stroke="#56b4f7" stroke-width="2.9" fill="none"/>
<rect x="1075.40" y="147.50" width="10.00" height="10.00" fill="#56b4f7"/>
<text x="1120.30" y="161.70" font-size="27.8" text-anchor="start" id="l_a2_2" textLength="234.98" lengthAdjust="spacing"><tspan font-style="italic">V</tspan><tspan font-size="18.35" dy="7.51">0</tspan><tspan dy="-7.51">= 0,</tspan><tspan font-style="italic">Ω</tspan><tspan font-style="italic" font-size="18.35" dy="7.51">L</tspan><tspan dy="-7.51">=0.0155712</tspan></text>
<path d="M1049.70,192.30H1073.20M1087.60,192.30H1111.40" stroke="#008c00" stroke-width="2.9" fill="none"/>
<path d="M1073.90,188.40L1086.90,188.40L1080.40,199.60Z" fill="#008c00"/>
<text x="1120.30" y="201.50" font-size="27.8" text-anchor="start" id="l_a2_3" textLength="269.63" lengthAdjust="spacing"><tspan font-style="italic">V</tspan><tspan font-size="18.35" dy="7.51">0</tspan><tspan dy="-7.51">= 0.25,</tspan><tspan font-style="italic">Ω</tspan><tspan font-style="italic" font-size="18.35" dy="7.51">L</tspan><tspan dy="-7.51">=0.0142386</tspan></text>
<path d="M1049.70,232.10H1073.20M1087.60,232.10H1111.40" stroke="#b57bf5" stroke-width="2.9" fill="none"/>
<path d="M1080.40,225.30L1087.20,232.10L1080.40,238.90L1073.60,232.10Z" fill="#b57bf5"/>
<text x="1120.30" y="241.30" font-size="27.8" text-anchor="start" id="l_a2_4" textLength="255.72" lengthAdjust="spacing"><tspan font-style="italic">V</tspan><tspan font-size="18.35" dy="7.51">0</tspan><tspan dy="-7.51">= 0.5,</tspan><tspan font-style="italic">Ω</tspan><tspan font-style="italic" font-size="18.35" dy="7.51">L</tspan><tspan dy="-7.51">=0.0127677</tspan></text>
<path d="M1110.88,573.90V569.90M1176.76,573.90V566.10M1242.64,573.90V569.90M1308.52,573.90V566.10M1374.40,573.90V569.90M1440.28,573.90V566.10M1506.16,573.90V569.90M1572.04,573.90V566.10M1637.92,573.90V569.90M1703.80,573.90V566.10M1045.00,521.77H1049.00M1045.00,469.64H1052.80M1045.00,417.51H1049.00M1045.00,365.38H1052.80M1045.00,313.25H1049.00M1045.00,261.12H1052.80M1045.00,208.99H1049.00M1045.00,156.86H1052.80M1045.00,104.73H1049.00" stroke="#000" stroke-width="1.7" fill="none"/>
<path d="M1045.00,52.60H1703.80V573.90" stroke="#222" stroke-width="1.25" fill="none"/>
<path d="M1045.00,52.10V573.90H1704.40" stroke="#000" stroke-width="2.3" fill="none"/>
<path d="M1045.00,52.90H1052.80" stroke="#000" stroke-width="1.8" fill="none"/>
<text x="1045.00" y="603.50" font-size="28" text-anchor="middle">0.0</text>
<text x="1176.76" y="603.50" font-size="28" text-anchor="middle">0.2</text>
<text x="1308.52" y="603.50" font-size="28" text-anchor="middle">0.4</text>
<text x="1440.28" y="603.50" font-size="28" text-anchor="middle">0.6</text>
<text x="1572.04" y="603.50" font-size="28" text-anchor="middle">0.8</text>
<text x="1703.80" y="603.50" font-size="28" text-anchor="middle">1.0</text>
<text x="1035.60" y="581.60" font-size="28" text-anchor="end">1.0</text>
<text x="1035.60" y="477.34" font-size="28" text-anchor="end">1.1</text>
<text x="1035.60" y="373.08" font-size="28" text-anchor="end">1.2</text>
<text x="1035.60" y="268.82" font-size="28" text-anchor="end">1.3</text>
<text x="1035.60" y="164.56" font-size="28" text-anchor="end">1.4</text>
<text x="1035.60" y="60.30" font-size="28" text-anchor="end">1.5</text>
<text x="1374.40" y="647.90" font-size="28" text-anchor="middle"><tspan font-style="italic">w/h</tspan></text>
<text x="0.00" y="0.00" font-size="28" text-anchor="middle" transform="translate(986.20,313.25) rotate(-90)"><tspan font-style="italic">Ω</tspan><tspan font-style="italic" font-size="19.04" dy="7.84">NL</tspan><tspan font-style="italic" dy="-7.84">/Ω</tspan><tspan font-style="italic" font-size="19.04" dy="7.84">L</tspan></text>
<text x="1179.30" y="20.30" font-size="28" text-anchor="start" id="t_a2" textLength="362.90" lengthAdjust="spacing"><tspan font-style="italic">(L/h</tspan><tspan >=10,</tspan><tspan font-style="italic">Ω</tspan><tspan font-size="18.48" dy="7.28">0</tspan><tspan dy="-7.28">=0.001,</tspan><tspan font-style="italic">l</tspan><tspan font-style="italic" font-size="18.48" dy="7.28">m</tspan><tspan dy="-7.28">=</tspan><tspan font-style="italic">e</tspan><tspan font-size="18.48" dy="7.28">0</tspan><tspan font-style="italic" dy="-7.28">a</tspan><tspan >=1</tspan><tspan font-style="italic">nm)</tspan></text>
<text x="1374.40" y="711.30" font-size="27" text-anchor="middle"><tspan font-style="italic">(a</tspan><tspan >-2</tspan><tspan font-style="italic">)</tspan></text>
<clipPath id="ca3"><rect x="78.2" y="816.2" width="659.0" height="521.5"/></clipPath>
<path d="M210.00,816.20V1337.70M341.80,816.20V1337.70M473.60,816.20V1337.70M605.40,816.20V1337.70M78.20,1233.40H737.20M78.20,1129.10H737.20M78.20,1024.80H737.20M78.20,920.50H737.20" stroke="#c6c6c6" stroke-width="1.1" fill="none"/>
<g clip-path="url(#ca3)"><path d="M85.40,1337.63L103.95,1337.46M118.35,1337.19L136.90,1336.68M151.29,1336.14L169.86,1335.28M184.23,1334.49L202.82,1333.28M217.18,1332.22L235.77,1330.68M250.11,1329.36L268.74,1327.47M283.05,1325.89L301.70,1323.67M315.98,1321.84L334.67,1319.28M348.92,1317.21L367.63,1314.31M381.85,1311.99L400.60,1308.77M414.77,1306.21L433.58,1302.66M447.70,1299.87L466.55,1296.00M480.63,1292.99L499.52,1288.79M513.55,1285.56L532.50,1281.05M546.48,1277.61L565.47,1272.79M579.40,1269.14L598.45,1264.01M612.33,1260.17L631.42,1254.73M645.25,1250.70L664.40,1244.97M678.17,1240.76L697.38,1234.74M711.09,1230.34L730.36,1224.04" stroke="#ff0000" stroke-width="2.9" fill="none"/><circle cx="78.20" cy="1337.70" r="5.6" fill="#ff0000"/><circle cx="111.15" cy="1337.39" r="5.6" fill="#ff0000"/><circle cx="144.10" cy="1336.48" r="5.6" fill="#ff0000"/><circle cx="177.05" cy="1334.95" r="5.6" fill="#ff0000"/><circle cx="210.00" cy="1332.82" r="5.6" fill="#ff0000"/><circle cx="242.95" cy="1330.08" r="5.6" fill="#ff0000"/><circle cx="275.90" cy="1326.75" r="5.6" fill="#ff0000"/><circle cx="308.85" cy="1322.82" r="5.6" fill="#ff0000"/><circle cx="341.80" cy="1318.31" r="5.6" fill="#ff0000"/><circle cx="374.75" cy="1313.21" r="5.6" fill="#ff0000"/><circle cx="407.70" cy="1307.55" r="5.6" fill="#ff0000"/><circle cx="440.65" cy="1301.33" r="5.6" fill="#ff0000"/><circle cx="473.60" cy="1294.55" r="5.6" fill="#ff0000"/><circle cx="506.55" cy="1287.23" r="5.6" fill="#ff0000"/><circle cx="539.50" cy="1279.38" r="5.6" fill="#ff0000"/><circle cx="572.45" cy="1271.01" r="5.6" fill="#ff0000"/><circle cx="605.40" cy="1262.14" r="5.6" fill="#ff0000"/><circle cx="638.35" cy="1252.76" r="5.6" fill="#ff0000"/><circle cx="671.30" cy="1242.91" r="5.6" fill="#ff0000"/><circle cx="704.25" cy="1232.58" r="5.6" fill="#ff0000"/><circle cx="737.20" cy="1221.80" r="5.6" fill="#ff0000"/><path d="M85.40,1337.61L103.95,1337.38M118.35,1337.02L136.90,1336.33M151.29,1335.62L169.86,1334.47M184.22,1333.40L202.83,1331.79M217.16,1330.37L235.79,1328.30M250.09,1326.54L268.76,1324.02M283.01,1321.93L301.74,1318.95M315.93,1316.52L334.72,1313.10M348.85,1310.35L367.70,1306.48M381.77,1303.43L400.68,1299.11M414.68,1295.76L433.67,1291.01M447.60,1287.37L466.65,1282.18M480.51,1278.27L499.64,1272.65M513.42,1268.47L532.63,1262.44M546.33,1258.00L565.62,1251.56M579.24,1246.88L598.61,1240.03M612.15,1235.12L631.60,1227.88M645.06,1222.74L664.59,1215.11M677.97,1209.77L697.58,1201.76M710.88,1196.22L730.57,1187.84" stroke="#00ffff" stroke-width="2.9" fill="none"/><path d="M74.30,1331.20L85.50,1337.70L74.30,1344.20Z" fill="#00ffff"/><path d="M107.25,1330.79L118.45,1337.29L107.25,1343.79Z" fill="#00ffff"/><path d="M140.20,1329.56L151.40,1336.06L140.20,1342.56Z" fill="#00ffff"/><path d="M173.15,1327.52L184.35,1334.02L173.15,1340.52Z" fill="#00ffff"/><path d="M206.10,1324.67L217.30,1331.17L206.10,1337.67Z" fill="#00ffff"/><path d="M239.05,1321.01L250.25,1327.51L239.05,1334.01Z" fill="#00ffff"/><path d="M272.00,1316.56L283.20,1323.06L272.00,1329.56Z" fill="#00ffff"/><path d="M304.95,1311.32L316.15,1317.82L304.95,1324.32Z" fill="#00ffff"/><path d="M337.90,1305.30L349.10,1311.80L337.90,1318.30Z" fill="#00ffff"/><path d="M370.85,1298.53L382.05,1305.03L370.85,1311.53Z" fill="#00ffff"/><path d="M403.80,1291.01L415.00,1297.51L403.80,1304.01Z" fill="#00ffff"/><path d="M436.75,1282.76L447.95,1289.26L436.75,1295.76Z" fill="#00ffff"/><path d="M469.70,1273.79L480.90,1280.29L469.70,1286.79Z" fill="#00ffff"/><path d="M502.65,1264.13L513.85,1270.63L502.65,1277.13Z" fill="#00ffff"/><path d="M535.60,1253.78L546.80,1260.28L535.60,1266.78Z" fill="#00ffff"/><path d="M568.55,1242.78L579.75,1249.28L568.55,1255.78Z" fill="#00ffff"/><path d="M601.50,1231.13L612.70,1237.63L601.50,1244.13Z" fill="#00ffff"/><path d="M634.45,1218.86L645.65,1225.36L634.45,1231.86Z" fill="#00ffff"/><path d="M667.40,1205.99L678.60,1212.49L667.40,1218.99Z" fill="#00ffff"/><path d="M700.35,1192.54L711.55,1199.04L700.35,1205.54Z" fill="#00ffff"/><path d="M733.30,1178.52L744.50,1185.02L733.30,1191.52Z" fill="#00ffff"/><path d="M85.40,1337.57L103.95,1337.23M118.34,1336.70L136.91,1335.67M151.27,1334.62L169.88,1332.91M184.19,1331.34L202.86,1328.95M217.11,1326.88L235.84,1323.81M250.01,1321.24L268.84,1317.49M282.91,1314.45L301.84,1310.02M315.81,1306.53L334.84,1301.43M348.70,1297.50L367.85,1291.74M381.58,1287.40L400.87,1280.98M414.47,1276.24L433.88,1269.18M447.35,1264.07L466.90,1256.37M480.23,1250.92L499.92,1242.58M513.11,1236.81L532.94,1227.86M545.99,1221.79L565.96,1212.24M578.88,1205.89L598.97,1195.75M611.76,1189.14L631.99,1178.43M644.65,1171.58L665.00,1160.32M677.54,1153.24L698.01,1141.45M710.43,1134.16L731.02,1121.85" stroke="#0a94ff" stroke-width="2.9" fill="none"/><rect x="73.20" y="1332.70" width="10.00" height="10.00" fill="#0a94ff"/><rect x="106.15" y="1332.09" width="10.00" height="10.00" fill="#0a94ff"/><rect x="139.10" y="1330.28" width="10.00" height="10.00" fill="#0a94ff"/><rect x="172.05" y="1327.25" width="10.00" height="10.00" fill="#0a94ff"/><rect x="205.00" y="1323.04" width="10.00" height="10.00" fill="#0a94ff"/><rect x="237.95" y="1317.64" width="10.00" height="10.00" fill="#0a94ff"/><rect x="270.90" y="1311.09" width="10.00" height="10.00" fill="#0a94ff"/><rect x="303.85" y="1303.39" width="10.00" height="10.00" fill="#0a94ff"/><rect x="336.80" y="1294.57" width="10.00" height="10.00" fill="#0a94ff"/><rect x="369.75" y="1284.67" width="10.00" height="10.00" fill="#0a94ff"/><rect x="402.70" y="1273.70" width="10.00" height="10.00" fill="#0a94ff"/><rect x="435.65" y="1261.71" width="10.00" height="10.00" fill="#0a94ff"/><rect x="468.60" y="1248.73" width="10.00" height="10.00" fill="#0a94ff"/><rect x="501.55" y="1234.78" width="10.00" height="10.00" fill="#0a94ff"/><rect x="534.50" y="1219.90" width="10.00" height="10.00" fill="#0a94ff"/><rect x="567.45" y="1204.13" width="10.00" height="10.00" fill="#0a94ff"/><rect x="600.40" y="1187.51" width="10.00" height="10.00" fill="#0a94ff"/><rect x="633.35" y="1170.06" width="10.00" height="10.00" fill="#0a94ff"/><rect x="666.30" y="1151.83" width="10.00" height="10.00" fill="#0a94ff"/><rect x="699.25" y="1132.85" width="10.00" height="10.00" fill="#0a94ff"/><rect x="732.20" y="1113.15" width="10.00" height="10.00" fill="#0a94ff"/><path d="M85.40,1337.44L103.95,1336.77M118.31,1335.74L136.94,1333.73M151.19,1331.68L169.96,1328.32M184.04,1325.31L203.01,1320.58M216.86,1316.66L236.09,1310.56M249.67,1305.80L269.18,1298.31M282.47,1292.79L302.28,1283.91M315.27,1277.70L335.38,1267.45M348.06,1260.62L368.49,1249.01M380.86,1241.63L401.59,1228.69M413.66,1220.84L434.69,1206.59M446.47,1198.32L467.78,1182.82M479.29,1174.17L500.86,1157.46M512.12,1148.49L533.93,1130.63M544.96,1121.38L566.99,1102.42M577.80,1092.91L600.05,1072.90M610.66,1063.17L633.09,1042.19M643.52,1032.26L666.13,1010.34M676.39,1000.24L699.16,977.45M709.27,967.19L732.18,943.58" stroke="#3cb371" stroke-width="2.9" fill="none"/><path d="M71.70,1333.80L84.70,1333.80L78.20,1345.00Z" fill="#3cb371"/><path d="M104.65,1332.61L117.65,1332.61L111.15,1343.81Z" fill="#3cb371"/><path d="M137.60,1329.05L150.60,1329.05L144.10,1340.25Z" fill="#3cb371"/><path d="M170.55,1323.15L183.55,1323.15L177.05,1334.35Z" fill="#3cb371"/><path d="M203.50,1314.94L216.50,1314.94L210.00,1326.14Z" fill="#3cb371"/><path d="M236.45,1304.48L249.45,1304.48L242.95,1315.68Z" fill="#3cb371"/><path d="M269.40,1291.83L282.40,1291.83L275.90,1303.03Z" fill="#3cb371"/><path d="M302.35,1277.07L315.35,1277.07L308.85,1288.27Z" fill="#3cb371"/><path d="M335.30,1260.28L348.30,1260.28L341.80,1271.48Z" fill="#3cb371"/><path d="M368.25,1241.55L381.25,1241.55L374.75,1252.75Z" fill="#3cb371"/><path d="M401.20,1220.97L414.20,1220.97L407.70,1232.17Z" fill="#3cb371"/><path d="M434.15,1198.65L447.15,1198.65L440.65,1209.85Z" fill="#3cb371"/><path d="M467.10,1174.68L480.10,1174.68L473.60,1185.88Z" fill="#3cb371"/><path d="M500.05,1149.16L513.05,1149.16L506.55,1160.36Z" fill="#3cb371"/><path d="M533.00,1122.17L546.00,1122.17L539.50,1133.37Z" fill="#3cb371"/><path d="M565.95,1093.82L578.95,1093.82L572.45,1105.02Z" fill="#3cb371"/><path d="M598.90,1064.19L611.90,1064.19L605.40,1075.39Z" fill="#3cb371"/><path d="M631.85,1033.37L644.85,1033.37L638.35,1044.57Z" fill="#3cb371"/><path d="M664.80,1001.43L677.80,1001.43L671.30,1012.63Z" fill="#3cb371"/><path d="M697.75,968.46L710.75,968.46L704.25,979.66Z" fill="#3cb371"/><path d="M730.70,934.52L743.70,934.52L737.20,945.72Z" fill="#3cb371"/><path d="M83.58,1332.92L105.77,1313.23M113.80,1301.75L141.45,1231.83M145.91,1218.16L175.24,1105.21M178.51,1091.19L208.54,946.30M211.28,932.16L241.67,764.63M244.13,750.44L274.72,567.03M277.02,552.81L307.73,358.15M309.93,343.91L340.72,141.13M342.85,126.89L373.70,-81.88M375.78,-96.13L406.67,-309.39M408.72,-323.65L439.63,-540.36M441.66,-554.62L472.59,-774.03M474.60,-788.29L505.55,-1009.83M507.54,-1024.10L538.51,-1247.36M540.48,-1261.63L571.47,-1486.30M573.43,-1500.57L604.42,-1726.40M606.38,-1740.67L637.37,-1967.47M639.32,-1981.74L670.33,-2209.36M672.27,-2223.63L703.28,-2451.94M705.22,-2466.21L736.23,-2695.12" stroke="#aa77e3" stroke-width="2.9" fill="none"/><path d="M78.20,1330.90L85.00,1337.70L78.20,1344.50L71.40,1337.70Z" fill="#aa77e3"/><path d="M111.15,1301.65L117.95,1308.45L111.15,1315.25L104.35,1308.45Z" fill="#aa77e3"/><path d="M144.10,1218.33L150.90,1225.13L144.10,1231.93L137.30,1225.13Z" fill="#aa77e3"/><path d="M177.05,1091.44L183.85,1098.24L177.05,1105.04L170.25,1098.24Z" fill="#aa77e3"/><path d="M210.00,932.45L216.80,939.25L210.00,946.05L203.20,939.25Z" fill="#aa77e3"/></g>
<rect x="250.50" y="816.20" width="364.00" height="203.20" fill="#fff"/>
<path d="M250.50,816.20H614.50" stroke="#999" stroke-width="1.25" fill="none"/>
<path d="M250.50,816.20V1019.40" stroke="#aaa" stroke-width="1.25" fill="none"/>
<path d="M250.50,1019.40H615.10" stroke="#666" stroke-width="1.25" fill="none"/>
<path d="M614.50,816.20V1020.00" stroke="#bbb" stroke-width="1.25" fill="none"/>
<path d="M254.40,834.60H278.50M292.90,834.60H316.90" stroke="#ff0000" stroke-width="2.9" fill="none"/>
<circle cx="285.70" cy="834.60" r="5.6" fill="#ff0000"/>
<text x="325.20" y="843.80" font-size="27.8" text-anchor="start" id="l_a3_0" textLength="272.93" lengthAdjust="spacing"><tspan font-style="italic">V</tspan><tspan font-size="18.35" dy="7.51">0</tspan><tspan dy="-7.51">=-0.5,</tspan><tspan font-style="italic">Ω</tspan><tspan font-style="italic" font-size="18.35" dy="7.51">L</tspan><tspan dy="-7.51">=0.00635362</tspan></text>
<path d="M254.40,874.40H278.50M292.90,874.40H316.90" stroke="#00ffff" stroke-width="2.9" fill="none"/>
<path d="M281.80,867.90L293.00,874.40L281.80,880.90Z" fill="#00ffff"/>
<text x="325.20" y="883.60" font-size="27.8" text-anchor="start" id="l_a3_1" textLength="285.79" lengthAdjust="spacing"><tspan font-style="italic">V</tspan><tspan font-size="18.35" dy="7.51">0</tspan><tspan dy="-7.51">=-0.25,</tspan><tspan font-style="italic">Ω</tspan><tspan font-style="italic" font-size="18.35" dy="7.51">L</tspan><tspan dy="-7.51">=0.00551188</tspan></text>
<path d="M254.40,914.50H278.50M292.90,914.50H316.90" stroke="#56b4f7" stroke-width="2.9" fill="none"/>
<rect x="280.70" y="909.50" width="10.00" height="10.00" fill="#56b4f7"/>
<text x="325.20" y="923.70" font-size="27.8" text-anchor="start" id="l_a3_2" textLength="248.47" lengthAdjust="spacing"><tspan font-style="italic">V</tspan><tspan font-size="18.35" dy="7.51">0</tspan><tspan dy="-7.51">= 0,</tspan><tspan font-style="italic">Ω</tspan><tspan font-style="italic" font-size="18.35" dy="7.51">L</tspan><tspan dy="-7.51">=0.00451588</tspan></text>
<path d="M254.40,954.30H278.50M292.90,954.30H316.90" stroke="#008c00" stroke-width="2.9" fill="none"/>
<path d="M279.20,950.40L292.20,950.40L285.70,961.60Z" fill="#008c00"/>
<text x="325.20" y="963.50" font-size="27.8" text-anchor="start" id="l_a3_3" textLength="284.22" lengthAdjust="spacing"><tspan font-style="italic">V</tspan><tspan font-size="18.35" dy="7.51">0</tspan><tspan dy="-7.51">= 0.25,</tspan><tspan font-style="italic">Ω</tspan><tspan font-style="italic" font-size="18.35" dy="7.51">L</tspan><tspan dy="-7.51">=0.00322575</tspan></text>
<path d="M254.40,994.20H278.50M292.90,994.20H316.90" stroke="#b57bf5" stroke-width="2.9" fill="none"/>
<path d="M285.70,987.40L292.50,994.20L285.70,1001.00L278.90,994.20Z" fill="#b57bf5"/>
<text x="325.20" y="1003.40" font-size="27.8" text-anchor="start" id="l_a3_4" textLength="284.22" lengthAdjust="spacing"><tspan font-style="italic">V</tspan><tspan font-size="18.35" dy="7.51">0</tspan><tspan dy="-7.51">= 0.5,</tspan><tspan font-style="italic">Ω</tspan><tspan font-style="italic" font-size="18.35" dy="7.51">L</tspan><tspan dy="-7.51">=0.000646375</tspan></text>
<path d="M144.10,1337.70V1333.70M210.00,1337.70V1329.90M275.90,1337.70V1333.70M341.80,1337.70V1329.90M407.70,1337.70V1333.70M473.60,1337.70V1329.90M539.50,1337.70V1333.70M605.40,1337.70V1329.90M671.30,1337.70V1333.70M737.20,1337.70V1329.90M78.20,1285.55H82.20M78.20,1233.40H86.00M78.20,1181.25H82.20M78.20,1129.10H86.00M78.20,1076.95H82.20M78.20,1024.80H86.00M78.20,972.65H82.20M78.20,920.50H86.00M78.20,868.35H82.20" stroke="#000" stroke-width="1.7" fill="none"/>
<path d="M78.20,816.20H737.20V1337.70" stroke="#222" stroke-width="1.25" fill="none"/>
<path d="M78.20,815.70V1337.70H737.80" stroke="#000" stroke-width="2.3" fill="none"/>
<path d="M78.20,816.50H86.00" stroke="#000" stroke-width="1.8" fill="none"/>
<text x="78.20" y="1367.30" font-size="28" text-anchor="middle">0.0</text>
<text x="210.00" y="1367.30" font-size="28" text-anchor="middle">0.2</text>
<text x="341.80" y="1367.30" font-size="28" text-anchor="middle">0.4</text>
<text x="473.60" y="1367.30" font-size="28" text-anchor="middle">0.6</text>
<text x="605.40" y="1367.30" font-size="28" text-anchor="middle">0.8</text>
<text x="737.20" y="1367.30" font-size="28" text-anchor="middle">1.0</text>
<text x="69.60" y="1345.40" font-size="28" text-anchor="end">1.0</text>
<text x="69.60" y="1241.10" font-size="28" text-anchor="end">1.1</text>
<text x="69.60" y="1136.80" font-size="28" text-anchor="end">1.2</text>
<text x="69.60" y="1032.50" font-size="28" text-anchor="end">1.3</text>
<text x="69.60" y="928.20" font-size="28" text-anchor="end">1.4</text>
<text x="69.60" y="823.90" font-size="28" text-anchor="end">1.5</text>
<text x="407.70" y="1411.70" font-size="28" text-anchor="middle"><tspan font-style="italic">w/h</tspan></text>
<text x="0.00" y="0.00" font-size="28" text-anchor="middle" transform="translate(19.40,1076.95) rotate(-90)"><tspan font-style="italic">Ω</tspan><tspan font-style="italic" font-size="19.04" dy="7.84">NL</tspan><tspan font-style="italic" dy="-7.84">/Ω</tspan><tspan font-style="italic" font-size="19.04" dy="7.84">L</tspan></text>
<text x="226.50" y="782.30" font-size="28" text-anchor="start" id="t_a3" textLength="364.70" lengthAdjust="spacing"><tspan font-style="italic">(L/h</tspan><tspan >=20,</tspan><tspan font-style="italic">Ω</tspan><tspan font-size="18.48" dy="7.28">0</tspan><tspan dy="-7.28">=0.001,</tspan><tspan font-style="italic">l</tspan><tspan font-style="italic" font-size="18.48" dy="7.28">m</tspan><tspan dy="-7.28">=</tspan><tspan font-style="italic">e</tspan><tspan font-size="18.48" dy="7.28">0</tspan><tspan font-style="italic" dy="-7.28">a</tspan><tspan >=1</tspan><tspan font-style="italic">nm)</tspan></text>
<text x="407.70" y="1470.80" font-size="27" text-anchor="middle"><tspan font-style="italic">(a</tspan><tspan >-3</tspan><tspan font-style="italic">)</tspan></text>
<clipPath id="cb1"><rect x="1045.0" y="816.3" width="658.8" height="521.4000000000001"/></clipPath>
<path d="M1176.76,816.30V1337.70M1308.52,816.30V1337.70M1440.28,816.30V1337.70M1572.04,816.30V1337.70M1045.00,1233.42H1703.80M1045.00,1129.14H1703.80M1045.00,1024.86H1703.80M1045.00,920.58H1703.80" stroke="#c6c6c6" stroke-width="1.1" fill="none"/>
<g clip-path="url(#cb1)"><path d="M1052.19,1337.43L1070.75,1336.72M1085.09,1335.62L1103.73,1333.50M1117.95,1331.34L1136.75,1327.77M1150.78,1324.60L1169.80,1319.59M1183.59,1315.46L1202.87,1308.99M1216.37,1303.99L1235.97,1296.04M1249.15,1290.25L1269.07,1280.83M1281.92,1274.34L1302.18,1263.45M1314.70,1256.34L1335.28,1244.00M1347.48,1236.34L1368.38,1222.59M1380.26,1214.45L1401.48,1199.33M1413.06,1190.77L1434.56,1174.32M1445.86,1165.40L1467.64,1147.68M1478.68,1138.44L1500.70,1119.51M1511.51,1110.00L1533.75,1089.92M1544.34,1080.16L1566.80,1059.00M1577.18,1049.02L1599.84,1026.83M1610.04,1016.67L1632.86,993.52M1642.90,983.19L1665.88,959.14M1675.76,948.66L1698.90,923.77" stroke="#ff0000" stroke-width="2.9" fill="none"/><circle cx="1045.00" cy="1337.70" r="5.6" fill="#ff0000"/><circle cx="1077.94" cy="1336.44" r="5.6" fill="#ff0000"/><circle cx="1110.88" cy="1332.68" r="5.6" fill="#ff0000"/><circle cx="1143.82" cy="1326.43" r="5.6" fill="#ff0000"/><circle cx="1176.76" cy="1317.75" r="5.6" fill="#ff0000"/><circle cx="1209.70" cy="1306.69" r="5.6" fill="#ff0000"/><circle cx="1242.64" cy="1293.33" r="5.6" fill="#ff0000"/><circle cx="1275.58" cy="1277.75" r="5.6" fill="#ff0000"/><circle cx="1308.52" cy="1260.04" r="5.6" fill="#ff0000"/><circle cx="1341.46" cy="1240.30" r="5.6" fill="#ff0000"/><circle cx="1374.40" cy="1218.63" r="5.6" fill="#ff0000"/><circle cx="1407.34" cy="1195.15" r="5.6" fill="#ff0000"/><circle cx="1440.28" cy="1169.95" r="5.6" fill="#ff0000"/><circle cx="1473.22" cy="1143.14" r="5.6" fill="#ff0000"/><circle cx="1506.16" cy="1114.82" r="5.6" fill="#ff0000"/><circle cx="1539.10" cy="1085.10" r="5.6" fill="#ff0000"/><circle cx="1572.04" cy="1054.06" r="5.6" fill="#ff0000"/><circle cx="1604.98" cy="1021.80" r="5.6" fill="#ff0000"/><circle cx="1637.92" cy="988.40" r="5.6" fill="#ff0000"/><circle cx="1670.86" cy="953.94" r="5.6" fill="#ff0000"/><circle cx="1703.80" cy="918.50" r="5.6" fill="#ff0000"/><path d="M1052.19,1337.43L1070.75,1336.74M1085.10,1335.67L1103.72,1333.58M1117.96,1331.46L1136.74,1327.97M1150.79,1324.85L1169.79,1319.94M1183.60,1315.89L1202.86,1309.55M1216.39,1304.64L1235.95,1296.85M1249.17,1291.16L1269.05,1281.93M1281.95,1275.54L1302.15,1264.88M1314.73,1257.87L1335.25,1245.79M1347.51,1238.24L1368.35,1224.77M1380.30,1216.74L1401.44,1201.93M1413.10,1193.47L1434.52,1177.36M1445.90,1168.54L1467.60,1151.19M1478.72,1142.04L1500.66,1123.50M1511.55,1114.07L1533.71,1094.39M1544.38,1084.72L1566.76,1063.97M1577.22,1054.08L1599.80,1032.33M1610.08,1022.24L1632.82,999.54M1642.94,989.29L1665.84,965.69M1675.80,955.29L1698.86,930.85" stroke="#00ffff" stroke-width="2.9" fill="none"/><path d="M1041.10,1331.20L1052.30,1337.70L1041.10,1344.20Z" fill="#00ffff"/><path d="M1074.04,1329.97L1085.24,1336.47L1074.04,1342.97Z" fill="#00ffff"/><path d="M1106.98,1326.28L1118.18,1332.78L1106.98,1339.28Z" fill="#00ffff"/><path d="M1139.92,1320.15L1151.12,1326.65L1139.92,1333.15Z" fill="#00ffff"/><path d="M1172.86,1311.64L1184.06,1318.14L1172.86,1324.64Z" fill="#00ffff"/><path d="M1205.80,1300.80L1217.00,1307.30L1205.80,1313.80Z" fill="#00ffff"/><path d="M1238.74,1287.69L1249.94,1294.19L1238.74,1300.69Z" fill="#00ffff"/><path d="M1271.68,1272.40L1282.88,1278.90L1271.68,1285.40Z" fill="#00ffff"/><path d="M1304.62,1255.02L1315.82,1261.52L1304.62,1268.02Z" fill="#00ffff"/><path d="M1337.56,1235.64L1348.76,1242.14L1337.56,1248.64Z" fill="#00ffff"/><path d="M1370.50,1214.37L1381.70,1220.87L1370.50,1227.37Z" fill="#00ffff"/><path d="M1403.44,1191.30L1414.64,1197.80L1403.44,1204.30Z" fill="#00ffff"/><path d="M1436.38,1166.54L1447.58,1173.04L1436.38,1179.54Z" fill="#00ffff"/><path d="M1469.32,1140.19L1480.52,1146.69L1469.32,1153.19Z" fill="#00ffff"/><path d="M1502.26,1112.35L1513.46,1118.85L1502.26,1125.35Z" fill="#00ffff"/><path d="M1535.20,1083.11L1546.40,1089.61L1535.20,1096.11Z" fill="#00ffff"/><path d="M1568.14,1052.58L1579.34,1059.08L1568.14,1065.58Z" fill="#00ffff"/><path d="M1601.08,1020.83L1612.28,1027.33L1601.08,1033.83Z" fill="#00ffff"/><path d="M1634.02,987.95L1645.22,994.45L1634.02,1000.95Z" fill="#00ffff"/><path d="M1666.96,954.02L1678.16,960.52L1666.96,967.02Z" fill="#00ffff"/><path d="M1699.90,919.12L1711.10,925.62L1699.90,932.12Z" fill="#00ffff"/><path d="M1052.20,1337.43L1070.74,1336.75M1085.10,1335.70L1103.72,1333.64M1117.96,1331.56L1136.74,1328.12M1150.80,1325.05L1169.78,1320.23M1183.61,1316.23L1202.85,1309.99M1216.40,1305.15L1235.94,1297.49M1249.19,1291.87L1269.03,1282.80M1281.97,1276.49L1302.13,1266.01M1314.75,1259.08L1335.23,1247.21M1347.53,1239.73L1368.33,1226.49M1380.33,1218.54L1401.41,1203.98M1413.12,1195.60L1434.50,1179.76M1445.93,1171.01L1467.57,1153.94M1478.75,1144.87L1500.63,1126.63M1511.58,1117.28L1533.68,1097.92M1544.41,1088.31L1566.73,1067.89M1577.26,1058.07L1599.76,1036.66M1610.11,1026.64L1632.79,1004.28M1642.97,994.09L1665.81,970.85M1675.83,960.51L1698.83,936.44" stroke="#0a94ff" stroke-width="2.9" fill="none"/><rect x="1040.00" y="1332.70" width="10.00" height="10.00" fill="#0a94ff"/><rect x="1072.94" y="1331.49" width="10.00" height="10.00" fill="#0a94ff"/><rect x="1105.88" y="1327.85" width="10.00" height="10.00" fill="#0a94ff"/><rect x="1138.82" y="1321.83" width="10.00" height="10.00" fill="#0a94ff"/><rect x="1171.76" y="1313.45" width="10.00" height="10.00" fill="#0a94ff"/><rect x="1204.70" y="1302.77" width="10.00" height="10.00" fill="#0a94ff"/><rect x="1237.64" y="1289.87" width="10.00" height="10.00" fill="#0a94ff"/><rect x="1270.58" y="1274.81" width="10.00" height="10.00" fill="#0a94ff"/><rect x="1303.52" y="1257.69" width="10.00" height="10.00" fill="#0a94ff"/><rect x="1336.46" y="1238.60" width="10.00" height="10.00" fill="#0a94ff"/><rect x="1369.40" y="1217.63" width="10.00" height="10.00" fill="#0a94ff"/><rect x="1402.34" y="1194.89" width="10.00" height="10.00" fill="#0a94ff"/><rect x="1435.28" y="1170.47" width="10.00" height="10.00" fill="#0a94ff"/><rect x="1468.22" y="1144.48" width="10.00" height="10.00" fill="#0a94ff"/><rect x="1501.16" y="1117.02" width="10.00" height="10.00" fill="#0a94ff"/><rect x="1534.10" y="1088.17" width="10.00" height="10.00" fill="#0a94ff"/><rect x="1567.04" y="1058.03" width="10.00" height="10.00" fill="#0a94ff"/><rect x="1599.98" y="1026.69" width="10.00" height="10.00" fill="#0a94ff"/><rect x="1632.92" y="994.23" width="10.00" height="10.00" fill="#0a94ff"/><rect x="1665.86" y="960.72" width="10.00" height="10.00" fill="#0a94ff"/><rect x="1698.80" y="926.23" width="10.00" height="10.00" fill="#0a94ff"/><path d="M1052.20,1337.44L1070.74,1336.77M1085.10,1335.73L1103.72,1333.71M1117.97,1331.66L1136.73,1328.28M1150.80,1325.25L1169.78,1320.51M1183.62,1316.57L1202.84,1310.44M1216.42,1305.66L1235.92,1298.14M1249.21,1292.59L1269.01,1283.67M1281.99,1277.44L1302.11,1267.14M1314.77,1260.29L1335.21,1248.62M1347.56,1241.22L1368.30,1228.22M1380.35,1220.34L1401.39,1206.03M1413.15,1197.73L1434.47,1182.16M1445.96,1173.49L1467.54,1156.71M1478.78,1147.71L1500.60,1129.77M1511.61,1120.49L1533.65,1101.45M1544.44,1091.92L1566.70,1071.83M1577.29,1062.07L1599.73,1041.00M1610.14,1031.05L1632.76,1009.04M1643.00,998.92L1665.78,976.03M1675.87,965.75L1698.79,942.05" stroke="#008c00" stroke-width="2.9" fill="none"/><path d="M1038.50,1333.80L1051.50,1333.80L1045.00,1345.00Z" fill="#008c00"/><path d="M1071.44,1332.61L1084.44,1332.61L1077.94,1343.81Z" fill="#008c00"/><path d="M1104.38,1329.03L1117.38,1329.03L1110.88,1340.23Z" fill="#008c00"/><path d="M1137.32,1323.10L1150.32,1323.10L1143.82,1334.30Z" fill="#008c00"/><path d="M1170.26,1314.86L1183.26,1314.86L1176.76,1326.06Z" fill="#008c00"/><path d="M1203.20,1304.35L1216.20,1304.35L1209.70,1315.55Z" fill="#008c00"/><path d="M1236.14,1291.64L1249.14,1291.64L1242.64,1302.84Z" fill="#008c00"/><path d="M1269.08,1276.82L1282.08,1276.82L1275.58,1288.02Z" fill="#008c00"/><path d="M1302.02,1259.96L1315.02,1259.96L1308.52,1271.16Z" fill="#008c00"/><path d="M1334.96,1241.15L1347.96,1241.15L1341.46,1252.35Z" fill="#008c00"/><path d="M1367.90,1220.49L1380.90,1220.49L1374.40,1231.69Z" fill="#008c00"/><path d="M1400.84,1198.08L1413.84,1198.08L1407.34,1209.28Z" fill="#008c00"/><path d="M1433.78,1174.01L1446.78,1174.01L1440.28,1185.21Z" fill="#008c00"/><path d="M1466.72,1148.39L1479.72,1148.39L1473.22,1159.59Z" fill="#008c00"/><path d="M1499.66,1121.30L1512.66,1121.30L1506.16,1132.50Z" fill="#008c00"/><path d="M1532.60,1092.84L1545.60,1092.84L1539.10,1104.04Z" fill="#008c00"/><path d="M1565.54,1063.10L1578.54,1063.10L1572.04,1074.30Z" fill="#008c00"/><path d="M1598.48,1032.17L1611.48,1032.17L1604.98,1043.37Z" fill="#008c00"/><path d="M1631.42,1000.12L1644.42,1000.12L1637.92,1011.32Z" fill="#008c00"/><path d="M1664.36,967.03L1677.36,967.03L1670.86,978.23Z" fill="#008c00"/><path d="M1697.30,932.97L1710.30,932.97L1703.80,944.17Z" fill="#008c00"/><path d="M1052.20,1337.44L1070.74,1336.78M1085.10,1335.76L1103.72,1333.76M1117.97,1331.74L1136.73,1328.40M1150.81,1325.42L1169.77,1320.73M1183.63,1316.84L1202.83,1310.80M1216.43,1306.07L1235.91,1298.65M1249.22,1293.17L1269.00,1284.38M1282.01,1278.20L1302.09,1268.05M1314.79,1261.26L1335.19,1249.76M1347.58,1242.43L1368.28,1229.61M1380.38,1221.80L1401.36,1207.69M1413.18,1199.45L1434.44,1184.10M1445.99,1175.49L1467.51,1158.94M1478.81,1150.01L1500.57,1132.31M1511.63,1123.09L1533.63,1104.30M1544.47,1094.83L1566.67,1075.01M1577.31,1065.31L1599.71,1044.51M1610.17,1034.61L1632.73,1012.89M1643.03,1002.82L1665.75,980.22M1675.89,970.00L1698.77,946.59" stroke="#aa77e3" stroke-width="2.9" fill="none"/><path d="M1045.00,1330.90L1051.80,1337.70L1045.00,1344.50L1038.20,1337.70Z" fill="#aa77e3"/><path d="M1077.94,1329.72L1084.74,1336.52L1077.94,1343.32L1071.14,1336.52Z" fill="#aa77e3"/><path d="M1110.88,1326.20L1117.68,1333.00L1110.88,1339.80L1104.08,1333.00Z" fill="#aa77e3"/><path d="M1143.82,1320.34L1150.62,1327.14L1143.82,1333.94L1137.02,1327.14Z" fill="#aa77e3"/><path d="M1176.76,1312.21L1183.56,1319.01L1176.76,1325.81L1169.96,1319.01Z" fill="#aa77e3"/><path d="M1209.70,1301.83L1216.50,1308.63L1209.70,1315.43L1202.90,1308.63Z" fill="#aa77e3"/><path d="M1242.64,1289.29L1249.44,1296.09L1242.64,1302.89L1235.84,1296.09Z" fill="#aa77e3"/><path d="M1275.58,1274.65L1282.38,1281.45L1275.58,1288.25L1268.78,1281.45Z" fill="#aa77e3"/><path d="M1308.52,1258.00L1315.32,1264.80L1308.52,1271.60L1301.72,1264.80Z" fill="#aa77e3"/><path d="M1341.46,1239.42L1348.26,1246.22L1341.46,1253.02L1334.66,1246.22Z" fill="#aa77e3"/><path d="M1374.40,1219.01L1381.20,1225.81L1374.40,1232.61L1367.60,1225.81Z" fill="#aa77e3"/><path d="M1407.34,1196.87L1414.14,1203.67L1407.34,1210.47L1400.54,1203.67Z" fill="#aa77e3"/><path d="M1440.28,1173.08L1447.08,1179.88L1440.28,1186.68L1433.48,1179.88Z" fill="#aa77e3"/><path d="M1473.22,1147.75L1480.02,1154.55L1473.22,1161.35L1466.42,1154.55Z" fill="#aa77e3"/><path d="M1506.16,1120.97L1512.96,1127.77L1506.16,1134.57L1499.36,1127.77Z" fill="#aa77e3"/><path d="M1539.10,1092.83L1545.90,1099.63L1539.10,1106.43L1532.30,1099.63Z" fill="#aa77e3"/><path d="M1572.04,1063.41L1578.84,1070.21L1572.04,1077.01L1565.24,1070.21Z" fill="#aa77e3"/><path d="M1604.98,1032.81L1611.78,1039.61L1604.98,1046.41L1598.18,1039.61Z" fill="#aa77e3"/><path d="M1637.92,1001.09L1644.72,1007.89L1637.92,1014.69L1631.12,1007.89Z" fill="#aa77e3"/><path d="M1670.86,968.35L1677.66,975.15L1670.86,981.95L1664.06,975.15Z" fill="#aa77e3"/><path d="M1703.80,934.64L1710.60,941.44L1703.80,948.24L1697.00,941.44Z" fill="#aa77e3"/></g>
<path d="M1110.88,1337.70V1333.70M1176.76,1337.70V1329.90M1242.64,1337.70V1333.70M1308.52,1337.70V1329.90M1374.40,1337.70V1333.70M1440.28,1337.70V1329.90M1506.16,1337.70V1333.70M1572.04,1337.70V1329.90M1637.92,1337.70V1333.70M1703.80,1337.70V1329.90M1045.00,1285.56H1049.00M1045.00,1233.42H1052.80M1045.00,1181.28H1049.00M1045.00,1129.14H1052.80M1045.00,1077.00H1049.00M1045.00,1024.86H1052.80M1045.00,972.72H1049.00M1045.00,920.58H1052.80M1045.00,868.44H1049.00" stroke="#000" stroke-width="1.7" fill="none"/>
<rect x="1045.00" y="816.50" width="381.40" height="202.90" fill="#fff"/>
<path d="M1045.00,816.50H1426.40" stroke="#777" stroke-width="1.25" fill="none"/>
<path d="M1045.00,816.50V1019.40" stroke="#777" stroke-width="1.25" fill="none"/>
<path d="M1045.00,1019.40H1427.00" stroke="#aaa" stroke-width="1.25" fill="none"/>
<path d="M1426.40,816.50V1020.00" stroke="#777" stroke-width="1.25" fill="none"/>
<path d="M1049.60,835.60H1073.40M1087.80,835.60H1111.70" stroke="#ff0000" stroke-width="2.9" fill="none"/>
<circle cx="1080.60" cy="835.60" r="5.6" fill="#ff0000"/>
<text x="1117.90" y="844.80" font-size="27.8" text-anchor="start" id="l_b1_0" textLength="290.76" lengthAdjust="spacing"><tspan font-style="italic">Ω</tspan><tspan font-size="18.35" dy="7.51">0</tspan><tspan dy="-7.51">=-0.001,</tspan><tspan font-style="italic">Ω</tspan><tspan font-style="italic" font-size="18.35" dy="7.51">L</tspan><tspan dy="-7.51">=0.0496528</tspan></text>
<path d="M1049.60,875.50H1073.40M1087.80,875.50H1111.70" stroke="#00ffff" stroke-width="2.9" fill="none"/>
<path d="M1076.70,869.00L1087.90,875.50L1076.70,882.00Z" fill="#00ffff"/>
<text x="1117.90" y="884.70" font-size="27.8" text-anchor="start" id="l_b1_1" textLength="304.45" lengthAdjust="spacing"><tspan font-style="italic">Ω</tspan><tspan font-size="18.35" dy="7.51">0</tspan><tspan dy="-7.51">=-0.0005,</tspan><tspan font-style="italic">Ω</tspan><tspan font-style="italic" font-size="18.35" dy="7.51">L</tspan><tspan dy="-7.51">=0.0500656</tspan></text>
<path d="M1049.60,915.40H1073.40M1087.80,915.40H1111.70" stroke="#0a94ff" stroke-width="2.9" fill="none"/>
<rect x="1075.60" y="910.40" width="10.00" height="10.00" fill="#0a94ff"/>
<text x="1117.90" y="924.60" font-size="27.8" text-anchor="start" id="l_b1_2" textLength="238.91" lengthAdjust="spacing"><tspan font-style="italic">Ω</tspan><tspan font-size="18.35" dy="7.51">0</tspan><tspan dy="-7.51">= 0,</tspan><tspan font-style="italic">Ω</tspan><tspan font-style="italic" font-size="18.35" dy="7.51">L</tspan><tspan dy="-7.51">=0.0504751</tspan></text>
<path d="M1049.60,955.30H1073.40M1087.80,955.30H1111.70" stroke="#008c00" stroke-width="2.9" fill="none"/>
<path d="M1074.10,951.40L1087.10,951.40L1080.60,962.60Z" fill="#008c00"/>
<text x="1117.90" y="964.50" font-size="27.8" text-anchor="start" id="l_b1_3" textLength="301.85" lengthAdjust="spacing"><tspan font-style="italic">Ω</tspan><tspan font-size="18.35" dy="7.51">0</tspan><tspan dy="-7.51">= 0.0005,</tspan><tspan font-style="italic">Ω</tspan><tspan font-style="italic" font-size="18.35" dy="7.51">L</tspan><tspan dy="-7.51">=0.0508813</tspan></text>
<path d="M1049.60,995.40H1073.40M1087.80,995.40H1111.70" stroke="#aa77e3" stroke-width="2.9" fill="none"/>
<path d="M1080.60,988.60L1087.40,995.40L1080.60,1002.20L1073.80,995.40Z" fill="#aa77e3"/>
<text x="1117.90" y="1004.60" font-size="27.8" text-anchor="start" id="l_b1_4" textLength="288.05" lengthAdjust="spacing"><tspan font-style="italic">Ω</tspan><tspan font-size="18.35" dy="7.51">0</tspan><tspan dy="-7.51">= 0.001,</tspan><tspan font-style="italic">Ω</tspan><tspan font-style="italic" font-size="18.35" dy="7.51">L</tspan><tspan dy="-7.51">=0.0512843</tspan></text>
<path d="M1045.00,816.30H1703.80V1337.70" stroke="#222" stroke-width="1.25" fill="none"/>
<path d="M1045.00,815.80V1337.70H1704.40" stroke="#000" stroke-width="2.3" fill="none"/>
<path d="M1045.00,816.60H1052.80" stroke="#000" stroke-width="1.8" fill="none"/>
<text x="1045.00" y="1367.30" font-size="28" text-anchor="middle">0.0</text>
<text x="1176.76" y="1367.30" font-size="28" text-anchor="middle">0.2</text>
<text x="1308.52" y="1367.30" font-size="28" text-anchor="middle">0.4</text>
<text x="1440.28" y="1367.30" font-size="28" text-anchor="middle">0.6</text>
<text x="1572.04" y="1367.30" font-size="28" text-anchor="middle">0.8</text>
<text x="1703.80" y="1367.30" font-size="28" text-anchor="middle">1.0</text>
<text x="1035.60" y="1345.40" font-size="28" text-anchor="end">1.0</text>
<text x="1035.60" y="1241.12" font-size="28" text-anchor="end">1.1</text>
<text x="1035.60" y="1136.84" font-size="28" text-anchor="end">1.2</text>
<text x="1035.60" y="1032.56" font-size="28" text-anchor="end">1.3</text>
<text x="1035.60" y="928.28" font-size="28" text-anchor="end">1.4</text>
<text x="1035.60" y="824.00" font-size="28" text-anchor="end">1.5</text>
<text x="1374.40" y="1411.70" font-size="28" text-anchor="middle"><tspan font-style="italic">w/h</tspan></text>
<text x="0.00" y="0.00" font-size="28" text-anchor="middle" transform="translate(986.20,1077.00) rotate(-90)"><tspan font-style="italic">Ω</tspan><tspan font-style="italic" font-size="19.04" dy="7.84">NL</tspan><tspan font-style="italic" dy="-7.84">/Ω</tspan><tspan font-style="italic" font-size="19.04" dy="7.84">L</tspan></text>
<text x="1187.20" y="781.10" font-size="28" text-anchor="start" id="t_b1" textLength="318.66" lengthAdjust="spacing"><tspan font-style="italic">(L/h</tspan><tspan >=5,</tspan><tspan font-style="italic">V</tspan><tspan font-size="18.48" dy="7.28">0</tspan><tspan dy="-7.28">=0.1,</tspan><tspan font-style="italic">l</tspan><tspan font-style="italic" font-size="18.48" dy="7.28">m</tspan><tspan dy="-7.28">=</tspan><tspan font-style="italic">e</tspan><tspan font-size="18.48" dy="7.28">0</tspan><tspan font-style="italic" dy="-7.28">a</tspan><tspan >=1</tspan><tspan font-style="italic">nm)</tspan></text>
<text x="1374.40" y="1467.70" font-size="27" text-anchor="middle"><tspan font-style="italic">(b</tspan><tspan >-1</tspan><tspan font-style="italic">)</tspan></text>
<clipPath id="cb2"><rect x="78.2" y="1612.5" width="659.0" height="521.6999999999998"/></clipPath>
<path d="M210.00,1612.50V2134.20M341.80,1612.50V2134.20M473.60,1612.50V2134.20M605.40,1612.50V2134.20M78.20,2029.86H737.20M78.20,1925.52H737.20M78.20,1821.18H737.20M78.20,1716.84H737.20" stroke="#c6c6c6" stroke-width="1.1" fill="none"/>
<g clip-path="url(#cb2)"><path d="M85.40,2133.97L103.95,2133.37M118.32,2132.44L136.93,2130.63M151.21,2128.80L169.94,2125.78M184.08,2123.07L202.97,2118.84M216.92,2115.29L236.03,2109.83M249.75,2105.50L269.10,2098.82M282.58,2093.77L302.17,2085.85M315.39,2080.15L335.26,2071.01M348.20,2064.71L368.35,2054.36M381.02,2047.53L401.43,2035.99M413.84,2028.68L434.51,2015.98M446.66,2008.24L467.59,1994.41M479.49,1986.29L500.66,1971.36M512.32,1962.91L533.73,1946.93M545.16,1938.18L566.79,1921.20M578.01,1912.18L599.84,1894.24M610.87,1884.98L632.88,1866.13M643.73,1856.66L665.92,1836.95M676.60,1827.29L698.95,1806.76M709.48,1796.93L731.97,1775.62" stroke="#ff0000" stroke-width="2.9" fill="none"/><circle cx="78.20" cy="2134.20" r="5.6" fill="#ff0000"/><circle cx="111.15" cy="2133.13" r="5.6" fill="#ff0000"/><circle cx="144.10" cy="2129.94" r="5.6" fill="#ff0000"/><circle cx="177.05" cy="2124.64" r="5.6" fill="#ff0000"/><circle cx="210.00" cy="2117.26" r="5.6" fill="#ff0000"/><circle cx="242.95" cy="2107.85" r="5.6" fill="#ff0000"/><circle cx="275.90" cy="2096.47" r="5.6" fill="#ff0000"/><circle cx="308.85" cy="2083.16" r="5.6" fill="#ff0000"/><circle cx="341.80" cy="2068.00" r="5.6" fill="#ff0000"/><circle cx="374.75" cy="2051.07" r="5.6" fill="#ff0000"/><circle cx="407.70" cy="2032.45" r="5.6" fill="#ff0000"/><circle cx="440.65" cy="2012.21" r="5.6" fill="#ff0000"/><circle cx="473.60" cy="1990.44" r="5.6" fill="#ff0000"/><circle cx="506.55" cy="1967.22" r="5.6" fill="#ff0000"/><circle cx="539.50" cy="1942.63" r="5.6" fill="#ff0000"/><circle cx="572.45" cy="1916.75" r="5.6" fill="#ff0000"/><circle cx="605.40" cy="1889.67" r="5.6" fill="#ff0000"/><circle cx="638.35" cy="1861.45" r="5.6" fill="#ff0000"/><circle cx="671.30" cy="1832.16" r="5.6" fill="#ff0000"/><circle cx="704.25" cy="1801.88" r="5.6" fill="#ff0000"/><circle cx="737.20" cy="1770.67" r="5.6" fill="#ff0000"/><path d="M85.40,2133.98L103.95,2133.41M118.32,2132.53L136.93,2130.82M151.22,2129.08L169.93,2126.23M184.09,2123.65L202.96,2119.65M216.95,2116.27L236.00,2111.12M249.79,2106.99L269.06,2100.68M282.62,2095.86L302.13,2088.38M315.45,2082.92L335.20,2074.30M348.27,2068.26L368.28,2058.49M381.09,2051.92L401.36,2041.03M413.92,2033.98L434.43,2021.99M446.74,2014.52L467.51,2001.46M479.58,1993.61L500.57,1979.50M512.42,1971.32L533.63,1956.21M545.26,1947.72L566.69,1931.66M578.11,1922.89L599.74,1905.91M610.97,1896.90L632.78,1879.04M643.84,1869.82L665.81,1851.13M676.71,1841.71L698.84,1822.23M709.58,1812.63L731.87,1792.40" stroke="#00ffff" stroke-width="2.9" fill="none"/><path d="M74.30,2127.70L85.50,2134.20L74.30,2140.70Z" fill="#00ffff"/><path d="M107.25,2126.69L118.45,2133.19L107.25,2139.69Z" fill="#00ffff"/><path d="M140.20,2123.67L151.40,2130.17L140.20,2136.67Z" fill="#00ffff"/><path d="M173.15,2118.64L184.35,2125.14L173.15,2131.64Z" fill="#00ffff"/><path d="M206.10,2111.65L217.30,2118.15L206.10,2124.65Z" fill="#00ffff"/><path d="M239.05,2102.74L250.25,2109.24L239.05,2115.74Z" fill="#00ffff"/><path d="M272.00,2091.93L283.20,2098.43L272.00,2104.93Z" fill="#00ffff"/><path d="M304.95,2079.31L316.15,2085.81L304.95,2092.31Z" fill="#00ffff"/><path d="M337.90,2064.91L349.10,2071.41L337.90,2077.91Z" fill="#00ffff"/><path d="M370.85,2048.83L382.05,2055.33L370.85,2061.83Z" fill="#00ffff"/><path d="M403.80,2031.12L415.00,2037.62L403.80,2044.12Z" fill="#00ffff"/><path d="M436.75,2011.86L447.95,2018.36L436.75,2024.86Z" fill="#00ffff"/><path d="M469.70,1991.12L480.90,1997.62L469.70,2004.12Z" fill="#00ffff"/><path d="M502.65,1968.99L513.85,1975.49L502.65,1981.99Z" fill="#00ffff"/><path d="M535.60,1945.54L546.80,1952.04L535.60,1958.54Z" fill="#00ffff"/><path d="M568.55,1920.84L579.75,1927.34L568.55,1933.84Z" fill="#00ffff"/><path d="M601.50,1894.96L612.70,1901.46L601.50,1907.96Z" fill="#00ffff"/><path d="M634.45,1867.98L645.65,1874.48L634.45,1880.98Z" fill="#00ffff"/><path d="M667.40,1839.96L678.60,1846.46L667.40,1852.96Z" fill="#00ffff"/><path d="M700.35,1810.97L711.55,1817.47L700.35,1823.97Z" fill="#00ffff"/><path d="M733.30,1781.07L744.50,1787.57L733.30,1794.07Z" fill="#00ffff"/><path d="M85.40,2133.99L103.95,2133.45M118.32,2132.62L136.93,2131.00M151.23,2129.35L169.92,2126.65M184.11,2124.20L202.94,2120.42M216.97,2117.21L235.98,2112.33M249.83,2108.40L269.02,2102.43M282.67,2097.84L302.08,2090.77M315.50,2085.55L335.15,2077.41M348.33,2071.62L368.22,2062.39M381.16,2056.09L401.29,2045.80M413.99,2039.02L434.36,2027.69M446.83,2020.49L467.42,2008.15M479.66,2000.57L500.49,1987.24M512.51,1979.32L533.54,1965.04M545.36,1956.80L566.59,1941.61M578.21,1933.10L599.64,1917.02M611.07,1908.27L632.68,1891.35M643.94,1882.37L665.71,1864.66M676.81,1855.47L698.74,1837.00M709.68,1827.64L731.77,1808.44" stroke="#56b4f7" stroke-width="2.9" fill="none"/><rect x="73.20" y="2129.20" width="10.00" height="10.00" fill="#0a94ff"/><rect x="106.15" y="2128.24" width="10.00" height="10.00" fill="#0a94ff"/><rect x="139.10" y="2125.38" width="10.00" height="10.00" fill="#0a94ff"/><rect x="172.05" y="2120.62" width="10.00" height="10.00" fill="#0a94ff"/><rect x="205.00" y="2114.00" width="10.00" height="10.00" fill="#0a94ff"/><rect x="237.95" y="2105.54" width="10.00" height="10.00" fill="#0a94ff"/><rect x="270.90" y="2095.30" width="10.00" height="10.00" fill="#0a94ff"/><rect x="303.85" y="2083.31" width="10.00" height="10.00" fill="#0a94ff"/><rect x="336.80" y="2069.65" width="10.00" height="10.00" fill="#0a94ff"/><rect x="369.75" y="2054.36" width="10.00" height="10.00" fill="#0a94ff"/><rect x="402.70" y="2037.52" width="10.00" height="10.00" fill="#0a94ff"/><rect x="435.65" y="2019.19" width="10.00" height="10.00" fill="#0a94ff"/><rect x="468.60" y="1999.45" width="10.00" height="10.00" fill="#0a94ff"/><rect x="501.55" y="1978.36" width="10.00" height="10.00" fill="#0a94ff"/><rect x="534.50" y="1955.99" width="10.00" height="10.00" fill="#0a94ff"/><rect x="567.45" y="1932.42" width="10.00" height="10.00" fill="#0a94ff"/><rect x="600.40" y="1907.70" width="10.00" height="10.00" fill="#0a94ff"/><rect x="633.35" y="1881.91" width="10.00" height="10.00" fill="#0a94ff"/><rect x="666.30" y="1855.11" width="10.00" height="10.00" fill="#0a94ff"/><rect x="699.25" y="1827.36" width="10.00" height="10.00" fill="#0a94ff"/><rect x="732.20" y="1798.72" width="10.00" height="10.00" fill="#0a94ff"/><path d="M85.40,2134.00L103.95,2133.49M118.33,2132.70L136.92,2131.16M151.23,2129.59L169.92,2127.03M184.12,2124.70L202.93,2121.10M216.99,2118.04L235.96,2113.41M249.85,2109.66L269.00,2104.00M282.70,2099.60L302.05,2092.91M315.55,2087.90L335.10,2080.18M348.39,2074.62L368.16,2065.88M381.22,2059.81L401.23,2050.06M414.06,2043.53L434.29,2032.79M446.90,2025.84L467.35,2014.14M479.74,2006.81L500.41,1994.17M512.59,1986.49L533.46,1972.94M545.44,1964.95L566.51,1950.53M578.30,1942.26L599.55,1927.00M611.16,1918.48L632.59,1902.40M644.03,1893.66L665.62,1876.81M676.90,1867.86L698.65,1850.28M709.78,1841.14L731.67,1822.87" stroke="#008c00" stroke-width="2.9" fill="none"/><path d="M71.70,2130.30L84.70,2130.30L78.20,2141.50Z" fill="#008c00"/><path d="M104.65,2129.39L117.65,2129.39L111.15,2140.59Z" fill="#008c00"/><path d="M137.60,2126.67L150.60,2126.67L144.10,2137.87Z" fill="#008c00"/><path d="M170.55,2122.15L183.55,2122.15L177.05,2133.35Z" fill="#008c00"/><path d="M203.50,2115.85L216.50,2115.85L210.00,2127.05Z" fill="#008c00"/><path d="M236.45,2107.81L249.45,2107.81L242.95,2119.01Z" fill="#008c00"/><path d="M269.40,2098.06L282.40,2098.06L275.90,2109.26Z" fill="#008c00"/><path d="M302.35,2086.65L315.35,2086.65L308.85,2097.85Z" fill="#008c00"/><path d="M335.30,2073.63L348.30,2073.63L341.80,2084.83Z" fill="#008c00"/><path d="M368.25,2059.07L381.25,2059.07L374.75,2070.27Z" fill="#008c00"/><path d="M401.20,2043.01L414.20,2043.01L407.70,2054.21Z" fill="#008c00"/><path d="M434.15,2025.52L447.15,2025.52L440.65,2036.72Z" fill="#008c00"/><path d="M467.10,2006.66L480.10,2006.66L473.60,2017.86Z" fill="#008c00"/><path d="M500.05,1986.51L513.05,1986.51L506.55,1997.71Z" fill="#008c00"/><path d="M533.00,1965.12L546.00,1965.12L539.50,1976.32Z" fill="#008c00"/><path d="M565.95,1942.56L578.95,1942.56L572.45,1953.76Z" fill="#008c00"/><path d="M598.90,1918.90L611.90,1918.90L605.40,1930.10Z" fill="#008c00"/><path d="M631.85,1894.18L644.85,1894.18L638.35,1905.38Z" fill="#008c00"/><path d="M664.80,1868.49L677.80,1868.49L671.30,1879.69Z" fill="#008c00"/><path d="M697.75,1841.86L710.75,1841.86L704.25,1853.06Z" fill="#008c00"/><path d="M730.70,1814.35L743.70,1814.35L737.20,1825.55Z" fill="#008c00"/><path d="M85.40,2134.01L103.95,2133.52M118.33,2132.77L136.92,2131.30M151.24,2129.80L169.91,2127.36M184.13,2125.14L202.92,2121.71M217.01,2118.79L235.94,2114.38M249.88,2110.79L268.97,2105.40M282.74,2101.19L302.01,2094.82M315.59,2090.02L335.06,2082.67M348.43,2077.32L368.12,2069.01M381.28,2063.16L401.17,2053.89M414.12,2047.59L434.23,2037.38M446.96,2030.66L467.29,2019.53M479.81,2012.43L500.34,2000.40M512.66,1992.96L533.39,1980.06M545.52,1972.31L566.43,1958.57M578.38,1950.54L599.47,1935.99M611.24,1927.70L632.51,1912.38M644.11,1903.86L665.54,1887.80M676.99,1879.06L698.56,1862.29M709.86,1853.37L731.59,1835.92" stroke="#aa77e3" stroke-width="2.9" fill="none"/><path d="M78.20,2127.40L85.00,2134.20L78.20,2141.00L71.40,2134.20Z" fill="#aa77e3"/><path d="M111.15,2126.53L117.95,2133.33L111.15,2140.13L104.35,2133.33Z" fill="#aa77e3"/><path d="M144.10,2123.94L150.90,2130.74L144.10,2137.54L137.30,2130.74Z" fill="#aa77e3"/><path d="M177.05,2119.63L183.85,2126.43L177.05,2133.23L170.25,2126.43Z" fill="#aa77e3"/><path d="M210.00,2113.62L216.80,2120.42L210.00,2127.22L203.20,2120.42Z" fill="#aa77e3"/><path d="M242.95,2105.95L249.75,2112.75L242.95,2119.55L236.15,2112.75Z" fill="#aa77e3"/><path d="M275.90,2096.65L282.70,2103.45L275.90,2110.25L269.10,2103.45Z" fill="#aa77e3"/><path d="M308.85,2085.76L315.65,2092.56L308.85,2099.36L302.05,2092.56Z" fill="#aa77e3"/><path d="M341.80,2073.33L348.60,2080.13L341.80,2086.93L335.00,2080.13Z" fill="#aa77e3"/><path d="M374.75,2059.40L381.55,2066.20L374.75,2073.00L367.95,2066.20Z" fill="#aa77e3"/><path d="M407.70,2044.05L414.50,2050.85L407.70,2057.65L400.90,2050.85Z" fill="#aa77e3"/><path d="M440.65,2027.32L447.45,2034.12L440.65,2040.92L433.85,2034.12Z" fill="#aa77e3"/><path d="M473.60,2009.27L480.40,2016.07L473.60,2022.87L466.80,2016.07Z" fill="#aa77e3"/><path d="M506.55,1989.96L513.35,1996.76L506.55,2003.56L499.75,1996.76Z" fill="#aa77e3"/><path d="M539.50,1969.46L546.30,1976.26L539.50,1983.06L532.70,1976.26Z" fill="#aa77e3"/><path d="M572.45,1947.82L579.25,1954.62L572.45,1961.42L565.65,1954.62Z" fill="#aa77e3"/><path d="M605.40,1925.11L612.20,1931.91L605.40,1938.71L598.60,1931.91Z" fill="#aa77e3"/><path d="M638.35,1901.37L645.15,1908.17L638.35,1914.97L631.55,1908.17Z" fill="#aa77e3"/><path d="M671.30,1876.68L678.10,1883.48L671.30,1890.28L664.50,1883.48Z" fill="#aa77e3"/><path d="M704.25,1851.07L711.05,1857.87L704.25,1864.67L697.45,1857.87Z" fill="#aa77e3"/><path d="M737.20,1824.61L744.00,1831.41L737.20,1838.21L730.40,1831.41Z" fill="#aa77e3"/></g>
<rect x="78.20" y="1612.40" width="380.20" height="204.00" fill="#fff"/>
<path d="M78.20,1612.40H458.40" stroke="#777" stroke-width="1.25" fill="none"/>
<path d="M78.20,1612.40V1816.40" stroke="#777" stroke-width="1.25" fill="none"/>
<path d="M78.20,1816.40H459.00" stroke="#aaa" stroke-width="1.25" fill="none"/>
<path d="M458.40,1612.40V1817.00" stroke="#777" stroke-width="1.25" fill="none"/>
<path d="M81.90,1632.30H105.30M119.70,1632.30H143.60" stroke="#ff0000" stroke-width="2.9" fill="none"/>
<circle cx="112.50" cy="1632.30" r="5.6" fill="#ff0000"/>
<text x="150.20" y="1641.50" font-size="27.8" text-anchor="start" id="l_b2_0" textLength="276.75" lengthAdjust="spacing"><tspan font-style="italic">Ω</tspan><tspan font-size="18.35" dy="7.51">0</tspan><tspan dy="-7.51">=-0.001,</tspan><tspan font-style="italic">Ω</tspan><tspan font-style="italic" font-size="18.35" dy="7.51">L</tspan><tspan dy="-7.51">=0.013589</tspan></text>
<path d="M81.90,1672.20H105.30M119.70,1672.20H143.60" stroke="#00ffff" stroke-width="2.9" fill="none"/>
<path d="M108.60,1665.70L119.80,1672.20L108.60,1678.70Z" fill="#00ffff"/>
<text x="150.20" y="1681.40" font-size="27.8" text-anchor="start" id="l_b2_1" textLength="305.05" lengthAdjust="spacing"><tspan font-style="italic">Ω</tspan><tspan font-size="18.35" dy="7.51">0</tspan><tspan dy="-7.51">=-0.0005,</tspan><tspan font-style="italic">Ω</tspan><tspan font-style="italic" font-size="18.35" dy="7.51">L</tspan><tspan dy="-7.51">=0.0139692</tspan></text>
<path d="M81.90,1712.30H105.30M119.70,1712.30H143.60" stroke="#0a94ff" stroke-width="2.9" fill="none"/>
<rect x="107.50" y="1707.30" width="10.00" height="10.00" fill="#0a94ff"/>
<text x="150.20" y="1721.50" font-size="27.8" text-anchor="start" id="l_b2_2" textLength="238.51" lengthAdjust="spacing"><tspan font-style="italic">Ω</tspan><tspan font-size="18.35" dy="7.51">0</tspan><tspan dy="-7.51">= 0,</tspan><tspan font-style="italic">Ω</tspan><tspan font-style="italic" font-size="18.35" dy="7.51">L</tspan><tspan dy="-7.51">=0.0143393</tspan></text>
<path d="M81.90,1752.20H105.30M119.70,1752.20H143.60" stroke="#008c00" stroke-width="2.9" fill="none"/>
<path d="M106.00,1748.30L119.00,1748.30L112.50,1759.50Z" fill="#008c00"/>
<text x="150.20" y="1761.40" font-size="27.8" text-anchor="start" id="l_b2_3" textLength="302.35" lengthAdjust="spacing"><tspan font-style="italic">Ω</tspan><tspan font-size="18.35" dy="7.51">0</tspan><tspan dy="-7.51">= 0.0005,</tspan><tspan font-style="italic">Ω</tspan><tspan font-style="italic" font-size="18.35" dy="7.51">L</tspan><tspan dy="-7.51">=0.0147002</tspan></text>
<path d="M81.90,1792.40H105.30M119.70,1792.40H143.60" stroke="#aa77e3" stroke-width="2.9" fill="none"/>
<path d="M112.50,1785.60L119.30,1792.40L112.50,1799.20L105.70,1792.40Z" fill="#aa77e3"/>
<text x="150.20" y="1801.60" font-size="27.8" text-anchor="start" id="l_b2_4" textLength="288.15" lengthAdjust="spacing"><tspan font-style="italic">Ω</tspan><tspan font-size="18.35" dy="7.51">0</tspan><tspan dy="-7.51">= 0.001,</tspan><tspan font-style="italic">Ω</tspan><tspan font-style="italic" font-size="18.35" dy="7.51">L</tspan><tspan dy="-7.51">=0.0150523</tspan></text>
<path d="M144.10,2134.20V2130.20M210.00,2134.20V2126.40M275.90,2134.20V2130.20M341.80,2134.20V2126.40M407.70,2134.20V2130.20M473.60,2134.20V2126.40M539.50,2134.20V2130.20M605.40,2134.20V2126.40M671.30,2134.20V2130.20M737.20,2134.20V2126.40M78.20,2082.03H82.20M78.20,2029.86H86.00M78.20,1977.69H82.20M78.20,1925.52H86.00M78.20,1873.35H82.20M78.20,1821.18H86.00M78.20,1769.01H82.20M78.20,1716.84H86.00M78.20,1664.67H82.20" stroke="#000" stroke-width="1.7" fill="none"/>
<path d="M78.20,1612.50H737.20V2134.20" stroke="#222" stroke-width="1.25" fill="none"/>
<path d="M78.20,1612.00V2134.20H737.80" stroke="#000" stroke-width="2.3" fill="none"/>
<path d="M78.20,1612.80H86.00" stroke="#000" stroke-width="1.8" fill="none"/>
<text x="78.20" y="2163.80" font-size="28" text-anchor="middle">0.0</text>
<text x="210.00" y="2163.80" font-size="28" text-anchor="middle">0.2</text>
<text x="341.80" y="2163.80" font-size="28" text-anchor="middle">0.4</text>
<text x="473.60" y="2163.80" font-size="28" text-anchor="middle">0.6</text>
<text x="605.40" y="2163.80" font-size="28" text-anchor="middle">0.8</text>
<text x="737.20" y="2163.80" font-size="28" text-anchor="middle">1.0</text>
<text x="69.60" y="2141.90" font-size="28" text-anchor="end">1.0</text>
<text x="69.60" y="2037.56" font-size="28" text-anchor="end">1.1</text>
<text x="69.60" y="1933.22" font-size="28" text-anchor="end">1.2</text>
<text x="69.60" y="1828.88" font-size="28" text-anchor="end">1.3</text>
<text x="69.60" y="1724.54" font-size="28" text-anchor="end">1.4</text>
<text x="69.60" y="1620.20" font-size="28" text-anchor="end">1.5</text>
<text x="407.70" y="2208.20" font-size="28" text-anchor="middle"><tspan font-style="italic">w/h</tspan></text>
<text x="0.00" y="0.00" font-size="28" text-anchor="middle" transform="translate(19.40,1873.35) rotate(-90)"><tspan font-style="italic">Ω</tspan><tspan font-style="italic" font-size="19.04" dy="7.84">NL</tspan><tspan font-style="italic" dy="-7.84">/Ω</tspan><tspan font-style="italic" font-size="19.04" dy="7.84">L</tspan></text>
<text x="234.40" y="1562.30" font-size="28" text-anchor="start" id="t_b2" textLength="333.96" lengthAdjust="spacing"><tspan font-style="italic">(L/h</tspan><tspan >=10,</tspan><tspan font-style="italic">V</tspan><tspan font-size="18.48" dy="7.28">0</tspan><tspan dy="-7.28">=0.1,</tspan><tspan font-style="italic">l</tspan><tspan font-style="italic" font-size="18.48" dy="7.28">m</tspan><tspan dy="-7.28">=</tspan><tspan font-style="italic">e</tspan><tspan font-size="18.48" dy="7.28">0</tspan><tspan font-style="italic" dy="-7.28">a</tspan><tspan >=1</tspan><tspan font-style="italic">nm)</tspan></text>
<text x="407.70" y="2266.70" font-size="27" text-anchor="middle"><tspan font-style="italic">(b</tspan><tspan >-2</tspan><tspan font-style="italic">)</tspan></text>
<clipPath id="cb3"><rect x="1045.0" y="1612.4" width="658.8" height="522.0"/></clipPath>
<path d="M1176.76,1612.40V2134.40M1308.52,1612.40V2134.40M1440.28,1612.40V2134.40M1572.04,1612.40V2134.40M1045.00,2030.00H1703.80M1045.00,1925.60H1703.80M1045.00,1821.20H1703.80M1045.00,1716.80H1703.80" stroke="#c6c6c6" stroke-width="1.1" fill="none"/>
<g clip-path="url(#cb3)"><path d="M1052.19,2133.94L1070.75,2132.75M1085.01,2130.93L1103.81,2127.33M1117.74,2123.80L1136.96,2117.72M1150.41,2112.65L1170.17,2104.00M1183.06,2097.61L1203.40,2086.32M1215.69,2078.83L1236.65,2064.87M1248.34,2056.49L1269.88,2039.89M1281.02,2030.77L1303.08,2011.61M1313.72,2001.90L1336.26,1980.27M1346.44,1970.09L1369.42,1946.12M1379.19,1935.55L1402.55,1909.39M1411.97,1898.50L1435.65,1870.30M1444.77,1859.15L1468.73,1829.06M1477.58,1817.70L1501.80,1785.87M1510.41,1774.33L1534.85,1740.90M1543.25,1729.21L1567.89,1694.32M1576.11,1682.50L1600.91,1646.27M1608.97,1634.34L1633.93,1596.89M1641.85,1584.87L1666.93,1546.30M1674.73,1534.19L1699.93,1494.61" stroke="#ff0000" stroke-width="2.9" fill="none"/><circle cx="1045.00" cy="2134.40" r="5.6" fill="#ff0000"/><circle cx="1077.94" cy="2132.29" r="5.6" fill="#ff0000"/><circle cx="1110.88" cy="2125.98" r="5.6" fill="#ff0000"/><circle cx="1143.82" cy="2115.54" r="5.6" fill="#ff0000"/><circle cx="1176.76" cy="2101.11" r="5.6" fill="#ff0000"/><circle cx="1209.70" cy="2082.82" r="5.6" fill="#ff0000"/><circle cx="1242.64" cy="2060.88" r="5.6" fill="#ff0000"/><circle cx="1275.58" cy="2035.49" r="5.6" fill="#ff0000"/><circle cx="1308.52" cy="2006.88" r="5.6" fill="#ff0000"/><circle cx="1341.46" cy="1975.28" r="5.6" fill="#ff0000"/><circle cx="1374.40" cy="1940.92" r="5.6" fill="#ff0000"/><circle cx="1407.34" cy="1904.01" r="5.6" fill="#ff0000"/><circle cx="1440.28" cy="1864.78" r="5.6" fill="#ff0000"/><circle cx="1473.22" cy="1823.43" r="5.6" fill="#ff0000"/><circle cx="1506.16" cy="1780.14" r="5.6" fill="#ff0000"/><circle cx="1539.10" cy="1735.09" r="5.6" fill="#ff0000"/><circle cx="1572.04" cy="1688.44" r="5.6" fill="#ff0000"/><circle cx="1604.98" cy="1640.33" r="5.6" fill="#ff0000"/><path d="M1052.19,2134.08L1070.75,2133.26M1085.08,2131.99L1103.74,2129.51M1117.91,2127.01L1136.79,2122.85M1150.71,2119.19L1169.87,2113.33M1183.47,2108.61L1202.99,2101.02M1216.22,2095.35L1236.12,2086.00M1248.96,2079.49L1269.26,2068.40M1281.70,2061.15L1302.40,2048.33M1314.45,2040.45L1335.53,2025.92M1347.21,2017.50L1368.65,2001.32M1379.98,1992.43L1401.76,1974.66M1412.76,1965.37L1434.86,1946.08M1445.56,1936.45L1467.94,1915.72M1478.37,1905.79L1501.01,1883.69M1511.19,1873.51L1534.07,1850.13M1544.03,1839.73L1567.11,1815.14M1576.87,1804.56L1600.15,1778.85M1609.73,1768.09L1633.17,1741.33M1642.59,1730.43L1666.19,1702.70M1675.46,1691.67L1699.20,1663.03" stroke="#00ffff" stroke-width="2.9" fill="none"/><path d="M1041.10,2127.90L1052.30,2134.40L1041.10,2140.90Z" fill="#00ffff"/><path d="M1074.04,2126.44L1085.24,2132.94L1074.04,2139.44Z" fill="#00ffff"/><path d="M1106.98,2122.06L1118.18,2128.56L1106.98,2135.06Z" fill="#00ffff"/><path d="M1139.92,2114.80L1151.12,2121.30L1139.92,2127.80Z" fill="#00ffff"/><path d="M1172.86,2104.72L1184.06,2111.22L1172.86,2117.72Z" fill="#00ffff"/><path d="M1205.80,2091.91L1217.00,2098.41L1205.80,2104.91Z" fill="#00ffff"/><path d="M1238.74,2076.44L1249.94,2082.94L1238.74,2089.44Z" fill="#00ffff"/><path d="M1271.68,2058.44L1282.88,2064.94L1271.68,2071.44Z" fill="#00ffff"/><path d="M1304.62,2038.03L1315.82,2044.53L1304.62,2051.03Z" fill="#00ffff"/><path d="M1337.56,2015.34L1348.76,2021.84L1337.56,2028.34Z" fill="#00ffff"/><path d="M1370.50,1990.48L1381.70,1996.98L1370.50,2003.48Z" fill="#00ffff"/><path d="M1403.44,1963.61L1414.64,1970.11L1403.44,1976.61Z" fill="#00ffff"/><path d="M1436.38,1934.85L1447.58,1941.35L1436.38,1947.85Z" fill="#00ffff"/><path d="M1469.32,1904.32L1480.52,1910.82L1469.32,1917.32Z" fill="#00ffff"/><path d="M1502.26,1872.16L1513.46,1878.66L1502.26,1885.16Z" fill="#00ffff"/><path d="M1535.20,1838.48L1546.40,1844.98L1535.20,1851.48Z" fill="#00ffff"/><path d="M1568.14,1803.39L1579.34,1809.89L1568.14,1816.39Z" fill="#00ffff"/><path d="M1601.08,1767.01L1612.28,1773.51L1601.08,1780.01Z" fill="#00ffff"/><path d="M1634.02,1729.42L1645.22,1735.92L1634.02,1742.42Z" fill="#00ffff"/><path d="M1666.96,1690.72L1678.16,1697.22L1666.96,1703.72Z" fill="#00ffff"/><path d="M1699.90,1650.99L1711.10,1657.49L1699.90,1663.99Z" fill="#00ffff"/><path d="M1052.20,2134.16L1070.74,2133.53M1085.10,2132.56L1103.72,2130.68M1117.98,2128.77L1136.72,2125.63M1150.83,2122.80L1169.75,2118.39M1183.66,2114.70L1202.80,2109.01M1216.47,2104.52L1235.87,2097.54M1249.28,2092.31L1268.94,2084.04M1282.07,2078.14L1302.03,2068.60M1314.87,2062.10L1335.11,2051.28M1347.67,2044.24L1368.19,2032.19M1380.47,2024.67L1401.27,2011.40M1413.28,2003.45L1434.34,1989.01M1446.09,1980.69L1467.41,1965.10M1478.91,1956.45L1500.47,1939.78M1511.74,1930.83L1533.52,1913.11M1544.58,1903.90L1566.56,1885.20M1577.43,1875.75L1599.59,1856.11M1610.28,1846.46L1632.62,1825.93M1643.14,1816.10L1665.64,1794.72M1676.01,1784.73L1698.65,1762.56" stroke="#0a94ff" stroke-width="2.9" fill="none"/><rect x="1040.00" y="2129.40" width="10.00" height="10.00" fill="#56b4f7"/><rect x="1072.94" y="2128.29" width="10.00" height="10.00" fill="#56b4f7"/><rect x="1105.88" y="2124.96" width="10.00" height="10.00" fill="#56b4f7"/><rect x="1138.82" y="2119.44" width="10.00" height="10.00" fill="#56b4f7"/><rect x="1171.76" y="2111.75" width="10.00" height="10.00" fill="#56b4f7"/><rect x="1204.70" y="2101.95" width="10.00" height="10.00" fill="#56b4f7"/><rect x="1237.64" y="2090.10" width="10.00" height="10.00" fill="#56b4f7"/><rect x="1270.58" y="2076.25" width="10.00" height="10.00" fill="#56b4f7"/><rect x="1303.52" y="2060.49" width="10.00" height="10.00" fill="#56b4f7"/><rect x="1336.46" y="2042.89" width="10.00" height="10.00" fill="#56b4f7"/><rect x="1369.40" y="2023.54" width="10.00" height="10.00" fill="#56b4f7"/><rect x="1402.34" y="2002.53" width="10.00" height="10.00" fill="#56b4f7"/><rect x="1435.28" y="1979.93" width="10.00" height="10.00" fill="#56b4f7"/><rect x="1468.22" y="1955.85" width="10.00" height="10.00" fill="#56b4f7"/><rect x="1501.16" y="1930.37" width="10.00" height="10.00" fill="#56b4f7"/><rect x="1534.10" y="1903.57" width="10.00" height="10.00" fill="#56b4f7"/><rect x="1567.04" y="1875.53" width="10.00" height="10.00" fill="#56b4f7"/><rect x="1599.98" y="1846.33" width="10.00" height="10.00" fill="#56b4f7"/><rect x="1632.92" y="1816.05" width="10.00" height="10.00" fill="#56b4f7"/><rect x="1665.86" y="1784.76" width="10.00" height="10.00" fill="#56b4f7"/><rect x="1698.80" y="1752.52" width="10.00" height="10.00" fill="#56b4f7"/><path d="M1052.20,2134.20L1070.74,2133.70M1085.12,2132.92L1103.70,2131.41M1118.02,2129.86L1136.68,2127.33M1150.90,2125.03L1169.68,2121.49M1183.76,2118.48L1202.70,2113.92M1216.61,2110.22L1235.73,2104.64M1249.45,2100.30L1268.77,2093.71M1282.29,2088.77L1301.81,2081.16M1315.12,2075.67L1334.86,2067.06M1347.95,2061.06L1367.91,2051.47M1380.78,2045.00L1400.96,2034.43M1413.61,2027.55L1434.01,2016.03M1446.44,2008.77L1467.06,1996.32M1479.28,1988.72L1500.10,1975.38M1512.12,1967.46L1533.14,1953.25M1544.97,1945.05L1566.17,1930.02M1577.82,1921.56L1599.20,1905.73M1610.68,1897.05L1632.22,1880.45M1643.55,1871.56L1665.23,1854.24M1676.41,1845.16L1698.25,1827.15" stroke="#3cb371" stroke-width="2.9" fill="none"/><path d="M1038.50,2130.50L1051.50,2130.50L1045.00,2141.70Z" fill="#3cb371"/><path d="M1071.44,2129.60L1084.44,2129.60L1077.94,2140.80Z" fill="#3cb371"/><path d="M1104.38,2126.92L1117.38,2126.92L1110.88,2138.12Z" fill="#3cb371"/><path d="M1137.32,2122.47L1150.32,2122.47L1143.82,2133.67Z" fill="#3cb371"/><path d="M1170.26,2116.26L1183.26,2116.26L1176.76,2127.46Z" fill="#3cb371"/><path d="M1203.20,2108.33L1216.20,2108.33L1209.70,2119.53Z" fill="#3cb371"/><path d="M1236.14,2098.73L1249.14,2098.73L1242.64,2109.93Z" fill="#3cb371"/><path d="M1269.08,2087.48L1282.08,2087.48L1275.58,2098.68Z" fill="#3cb371"/><path d="M1302.02,2074.65L1315.02,2074.65L1308.52,2085.85Z" fill="#3cb371"/><path d="M1334.96,2060.28L1347.96,2060.28L1341.46,2071.48Z" fill="#3cb371"/><path d="M1367.90,2044.45L1380.90,2044.45L1374.40,2055.65Z" fill="#3cb371"/><path d="M1400.84,2027.19L1413.84,2027.19L1407.34,2038.39Z" fill="#3cb371"/><path d="M1433.78,2008.59L1446.78,2008.59L1440.28,2019.79Z" fill="#3cb371"/><path d="M1466.72,1988.70L1479.72,1988.70L1473.22,1999.90Z" fill="#3cb371"/><path d="M1499.66,1967.59L1512.66,1967.59L1506.16,1978.79Z" fill="#3cb371"/><path d="M1532.60,1945.32L1545.60,1945.32L1539.10,1956.52Z" fill="#3cb371"/><path d="M1565.54,1921.95L1578.54,1921.95L1572.04,1933.15Z" fill="#3cb371"/><path d="M1598.48,1897.54L1611.48,1897.54L1604.98,1908.74Z" fill="#3cb371"/><path d="M1631.42,1872.16L1644.42,1872.16L1637.92,1883.36Z" fill="#3cb371"/><path d="M1664.36,1845.85L1677.36,1845.85L1670.86,1857.05Z" fill="#3cb371"/><path d="M1697.30,1818.67L1710.30,1818.67L1703.80,1829.87Z" fill="#3cb371"/><path d="M1052.20,2134.23L1070.74,2133.81M1085.12,2133.15L1103.70,2131.87M1118.03,2130.56L1136.67,2128.43M1150.93,2126.48L1169.65,2123.49M1183.81,2120.92L1202.65,2117.08M1216.69,2113.91L1235.65,2109.22M1249.56,2105.49L1268.66,2099.95M1282.41,2095.68L1301.69,2089.29M1315.27,2084.52L1334.71,2077.29M1348.12,2072.05L1367.74,2063.99M1380.97,2058.31L1400.77,2049.44M1413.82,2043.36L1433.80,2033.69M1446.67,2027.24L1466.83,2016.78M1479.52,2009.99L1499.86,1998.77M1512.38,1991.66L1532.88,1979.70M1545.24,1972.31L1565.90,1959.63M1578.10,1951.98L1598.92,1938.61M1610.96,1930.71L1631.94,1916.67M1643.83,1908.56L1664.95,1893.88M1676.70,1885.57L1697.96,1870.28" stroke="#aa77e3" stroke-width="2.9" fill="none"/><path d="M1045.00,2127.60L1051.80,2134.40L1045.00,2141.20L1038.20,2134.40Z" fill="#aa77e3"/><path d="M1077.94,2126.84L1084.74,2133.64L1077.94,2140.44L1071.14,2133.64Z" fill="#aa77e3"/><path d="M1110.88,2124.58L1117.68,2131.38L1110.88,2138.18L1104.08,2131.38Z" fill="#aa77e3"/><path d="M1143.82,2120.81L1150.62,2127.61L1143.82,2134.41L1137.02,2127.61Z" fill="#aa77e3"/><path d="M1176.76,2115.56L1183.56,2122.36L1176.76,2129.16L1169.96,2122.36Z" fill="#aa77e3"/><path d="M1209.70,2108.84L1216.50,2115.64L1209.70,2122.44L1202.90,2115.64Z" fill="#aa77e3"/><path d="M1242.64,2100.69L1249.44,2107.49L1242.64,2114.29L1235.84,2107.49Z" fill="#aa77e3"/><path d="M1275.58,2091.14L1282.38,2097.94L1275.58,2104.74L1268.78,2097.94Z" fill="#aa77e3"/><path d="M1308.52,2080.22L1315.32,2087.02L1308.52,2093.82L1301.72,2087.02Z" fill="#aa77e3"/><path d="M1341.46,2067.98L1348.26,2074.78L1341.46,2081.58L1334.66,2074.78Z" fill="#aa77e3"/><path d="M1374.40,2054.46L1381.20,2061.26L1374.40,2068.06L1367.60,2061.26Z" fill="#aa77e3"/><path d="M1407.34,2039.70L1414.14,2046.50L1407.34,2053.30L1400.54,2046.50Z" fill="#aa77e3"/><path d="M1440.28,2023.75L1447.08,2030.55L1440.28,2037.35L1433.48,2030.55Z" fill="#aa77e3"/><path d="M1473.22,2006.67L1480.02,2013.47L1473.22,2020.27L1466.42,2013.47Z" fill="#aa77e3"/><path d="M1506.16,1988.49L1512.96,1995.29L1506.16,2002.09L1499.36,1995.29Z" fill="#aa77e3"/><path d="M1539.10,1969.27L1545.90,1976.07L1539.10,1982.87L1532.30,1976.07Z" fill="#aa77e3"/><path d="M1572.04,1949.07L1578.84,1955.87L1572.04,1962.67L1565.24,1955.87Z" fill="#aa77e3"/><path d="M1604.98,1927.91L1611.78,1934.71L1604.98,1941.51L1598.18,1934.71Z" fill="#aa77e3"/><path d="M1637.92,1905.87L1644.72,1912.67L1637.92,1919.47L1631.12,1912.67Z" fill="#aa77e3"/><path d="M1670.86,1882.97L1677.66,1889.77L1670.86,1896.57L1664.06,1889.77Z" fill="#aa77e3"/><path d="M1703.80,1859.27L1710.60,1866.07L1703.80,1872.87L1697.00,1866.07Z" fill="#aa77e3"/></g>
<rect x="1045.00" y="1612.00" width="395.40" height="204.40" fill="#fff"/>
<path d="M1045.00,1612.00H1440.40" stroke="#aaa" stroke-width="1.25" fill="none"/>
<path d="M1045.00,1612.00V1816.40" stroke="#aaa" stroke-width="1.25" fill="none"/>
<path d="M1045.00,1816.40H1441.00" stroke="#aaa" stroke-width="1.25" fill="none"/>
<path d="M1440.40,1612.00V1817.00" stroke="#aaa" stroke-width="1.25" fill="none"/>
<path d="M1049.50,1632.10H1073.40M1087.80,1632.10H1111.50" stroke="#ff0000" stroke-width="2.9" fill="none"/>
<circle cx="1080.60" cy="1632.10" r="5.6" fill="#ff0000"/>
<text x="1118.80" y="1641.30" font-size="27.8" text-anchor="start" id="l_b3_0" textLength="303.25" lengthAdjust="spacing"><tspan font-style="italic">Ω</tspan><tspan font-size="18.35" dy="7.51">0</tspan><tspan dy="-7.51">=-0.001,</tspan><tspan font-style="italic">Ω</tspan><tspan font-style="italic" font-size="18.35" dy="7.51">L</tspan><tspan dy="-7.51">=0.00242078</tspan></text>
<path d="M1049.50,1672.30H1073.40M1087.80,1672.30H1111.50" stroke="#00ffff" stroke-width="2.9" fill="none"/>
<path d="M1076.70,1665.80L1087.90,1672.30L1076.70,1678.80Z" fill="#00ffff"/>
<text x="1118.80" y="1681.50" font-size="27.8" text-anchor="start" id="l_b3_1" textLength="316.94" lengthAdjust="spacing"><tspan font-style="italic">Ω</tspan><tspan font-size="18.35" dy="7.51">0</tspan><tspan dy="-7.51">=-0.0005,</tspan><tspan font-style="italic">Ω</tspan><tspan font-style="italic" font-size="18.35" dy="7.51">L</tspan><tspan dy="-7.51">=0.00291456</tspan></text>
<path d="M1049.50,1712.10H1073.40M1087.80,1712.10H1111.50" stroke="#0a94ff" stroke-width="2.9" fill="none"/>
<rect x="1075.60" y="1707.10" width="10.00" height="10.00" fill="#0a94ff"/>
<text x="1118.80" y="1721.30" font-size="27.8" text-anchor="start" id="l_b3_2" textLength="251.90" lengthAdjust="spacing"><tspan font-style="italic">Ω</tspan><tspan font-size="18.35" dy="7.51">0</tspan><tspan dy="-7.51">= 0,</tspan><tspan font-style="italic">Ω</tspan><tspan font-style="italic" font-size="18.35" dy="7.51">L</tspan><tspan dy="-7.51">=0.00333603</tspan></text>
<path d="M1049.50,1751.80H1073.40M1087.80,1751.80H1111.50" stroke="#008c00" stroke-width="2.9" fill="none"/>
<path d="M1074.10,1747.90L1087.10,1747.90L1080.60,1759.10Z" fill="#008c00"/>
<text x="1118.80" y="1761.00" font-size="27.8" text-anchor="start" id="l_b3_3" textLength="313.44" lengthAdjust="spacing"><tspan font-style="italic">Ω</tspan><tspan font-size="18.35" dy="7.51">0</tspan><tspan dy="-7.51">= 0.0005,</tspan><tspan font-style="italic">Ω</tspan><tspan font-style="italic" font-size="18.35" dy="7.51">L</tspan><tspan dy="-7.51">=0.00370993</tspan></text>
<path d="M1049.50,1791.90H1073.40M1087.80,1791.90H1111.50" stroke="#aa77e3" stroke-width="2.9" fill="none"/>
<path d="M1080.60,1785.10L1087.40,1791.90L1080.60,1798.70L1073.80,1791.90Z" fill="#aa77e3"/>
<text x="1118.80" y="1801.10" font-size="27.8" text-anchor="start" id="l_b3_4" textLength="300.44" lengthAdjust="spacing"><tspan font-style="italic">Ω</tspan><tspan font-size="18.35" dy="7.51">0</tspan><tspan dy="-7.51">= 0.001,</tspan><tspan font-style="italic">Ω</tspan><tspan font-style="italic" font-size="18.35" dy="7.51">L</tspan><tspan dy="-7.51">=0.00404945</tspan></text>
<path d="M1110.88,2134.40V2130.40M1176.76,2134.40V2126.60M1242.64,2134.40V2130.40M1308.52,2134.40V2126.60M1374.40,2134.40V2130.40M1440.28,2134.40V2126.60M1506.16,2134.40V2130.40M1572.04,2134.40V2126.60M1637.92,2134.40V2130.40M1703.80,2134.40V2126.60M1045.00,2082.20H1049.00M1045.00,2030.00H1052.80M1045.00,1977.80H1049.00M1045.00,1925.60H1052.80M1045.00,1873.40H1049.00M1045.00,1821.20H1052.80M1045.00,1769.00H1049.00M1045.00,1716.80H1052.80M1045.00,1664.60H1049.00" stroke="#000" stroke-width="1.7" fill="none"/>
<path d="M1045.00,1612.40H1703.80V2134.40" stroke="#222" stroke-width="1.25" fill="none"/>
<path d="M1045.00,1611.90V2134.40H1704.40" stroke="#000" stroke-width="2.3" fill="none"/>
<path d="M1045.00,1612.70H1052.80" stroke="#000" stroke-width="1.8" fill="none"/>
<text x="1045.00" y="2164.00" font-size="28" text-anchor="middle">0.0</text>
<text x="1176.76" y="2164.00" font-size="28" text-anchor="middle">0.2</text>
<text x="1308.52" y="2164.00" font-size="28" text-anchor="middle">0.4</text>
<text x="1440.28" y="2164.00" font-size="28" text-anchor="middle">0.6</text>
<text x="1572.04" y="2164.00" font-size="28" text-anchor="middle">0.8</text>
<text x="1703.80" y="2164.00" font-size="28" text-anchor="middle">1.0</text>
<text x="1035.60" y="2142.10" font-size="28" text-anchor="end">1.0</text>
<text x="1035.60" y="2037.70" font-size="28" text-anchor="end">1.1</text>
<text x="1035.60" y="1933.30" font-size="28" text-anchor="end">1.2</text>
<text x="1035.60" y="1828.90" font-size="28" text-anchor="end">1.3</text>
<text x="1035.60" y="1724.50" font-size="28" text-anchor="end">1.4</text>
<text x="1035.60" y="1620.10" font-size="28" text-anchor="end">1.5</text>
<text x="1374.40" y="2208.40" font-size="28" text-anchor="middle"><tspan font-style="italic">w/h</tspan></text>
<text x="0.00" y="0.00" font-size="28" text-anchor="middle" transform="translate(986.20,1873.40) rotate(-90)"><tspan font-style="italic">Ω</tspan><tspan font-style="italic" font-size="19.04" dy="7.84">NL</tspan><tspan font-style="italic" dy="-7.84">/Ω</tspan><tspan font-style="italic" font-size="19.04" dy="7.84">L</tspan></text>
<text x="1215.90" y="1577.70" font-size="28" text-anchor="start" id="t_b3" textLength="331.76" lengthAdjust="spacing"><tspan font-style="italic">(L/h</tspan><tspan >=20,</tspan><tspan font-style="italic">V</tspan><tspan font-size="18.48" dy="7.28">0</tspan><tspan dy="-7.28">=0.1,</tspan><tspan font-style="italic">l</tspan><tspan font-style="italic" font-size="18.48" dy="7.28">m</tspan><tspan dy="-7.28">=</tspan><tspan font-style="italic">e</tspan><tspan font-size="18.48" dy="7.28">0</tspan><tspan font-style="italic" dy="-7.28">a</tspan><tspan >=1</tspan><tspan font-style="italic">nm)</tspan></text>
<text x="1374.40" y="2266.00" font-size="27" text-anchor="middle"><tspan font-style="italic">(b</tspan><tspan >-3</tspan><tspan font-style="italic">)</tspan></text>
</svg>
</body></html>
